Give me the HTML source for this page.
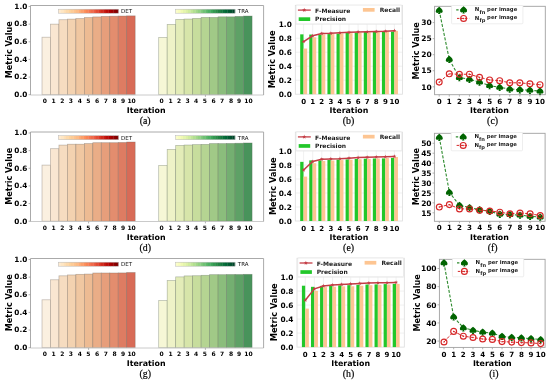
<!DOCTYPE html>
<html><head><meta charset="utf-8"><style>
html,body{margin:0;padding:0;background:#fff;}
svg{display:block;}
</style></head><body>
<svg width="550" height="383" viewBox="0 0 550 383">
<rect width="550" height="383" fill="#fff"/>
<rect x="42.00" y="37.19" width="8.47" height="57.51" fill="#fbf0e0" stroke="#6e6458" stroke-opacity="0.45" stroke-width="0.7"/>
<rect x="50.47" y="24.14" width="8.47" height="70.56" fill="#f9e6d1" stroke="#6e6458" stroke-opacity="0.45" stroke-width="0.7"/>
<rect x="58.94" y="19.73" width="8.47" height="74.97" fill="#f6dcc0" stroke="#6e6458" stroke-opacity="0.45" stroke-width="0.7"/>
<rect x="67.41" y="19.11" width="8.47" height="75.59" fill="#f3d2b0" stroke="#6e6458" stroke-opacity="0.45" stroke-width="0.7"/>
<rect x="75.88" y="18.58" width="8.47" height="76.12" fill="#f0c7a1" stroke="#6e6458" stroke-opacity="0.45" stroke-width="0.7"/>
<rect x="84.35" y="17.53" width="8.47" height="77.17" fill="#edbb93" stroke="#6e6458" stroke-opacity="0.45" stroke-width="0.7"/>
<rect x="92.82" y="16.91" width="8.47" height="77.79" fill="#eaad87" stroke="#6e6458" stroke-opacity="0.45" stroke-width="0.7"/>
<rect x="101.29" y="16.38" width="8.47" height="78.32" fill="#e79e7b" stroke="#6e6458" stroke-opacity="0.45" stroke-width="0.7"/>
<rect x="109.76" y="16.20" width="8.47" height="78.50" fill="#e38d6e" stroke="#6e6458" stroke-opacity="0.45" stroke-width="0.7"/>
<rect x="118.23" y="16.03" width="8.47" height="78.67" fill="#de7c62" stroke="#6e6458" stroke-opacity="0.45" stroke-width="0.7"/>
<rect x="126.70" y="15.85" width="8.47" height="78.85" fill="#d86b57" stroke="#6e6458" stroke-opacity="0.45" stroke-width="0.7"/>
<rect x="158.70" y="37.37" width="8.49" height="57.33" fill="#f6f7d6" stroke="#5e6a58" stroke-opacity="0.45" stroke-width="0.7"/>
<rect x="167.19" y="24.40" width="8.49" height="70.30" fill="#eef2c7" stroke="#5e6a58" stroke-opacity="0.45" stroke-width="0.7"/>
<rect x="175.68" y="19.38" width="8.49" height="75.32" fill="#e3ecb8" stroke="#5e6a58" stroke-opacity="0.45" stroke-width="0.7"/>
<rect x="184.17" y="19.02" width="8.49" height="75.68" fill="#d7e5aa" stroke="#5e6a58" stroke-opacity="0.45" stroke-width="0.7"/>
<rect x="192.66" y="18.41" width="8.49" height="76.29" fill="#c7dd9d" stroke="#5e6a58" stroke-opacity="0.45" stroke-width="0.7"/>
<rect x="201.15" y="17.44" width="8.49" height="77.26" fill="#b5d492" stroke="#5e6a58" stroke-opacity="0.45" stroke-width="0.7"/>
<rect x="209.64" y="17.44" width="8.49" height="77.26" fill="#a1c987" stroke="#5e6a58" stroke-opacity="0.45" stroke-width="0.7"/>
<rect x="218.13" y="16.82" width="8.49" height="77.88" fill="#8bbd7c" stroke="#5e6a58" stroke-opacity="0.45" stroke-width="0.7"/>
<rect x="226.62" y="16.82" width="8.49" height="77.88" fill="#74af71" stroke="#5e6a58" stroke-opacity="0.45" stroke-width="0.7"/>
<rect x="235.11" y="16.38" width="8.49" height="78.32" fill="#5ea166" stroke="#5e6a58" stroke-opacity="0.45" stroke-width="0.7"/>
<rect x="243.60" y="16.03" width="8.49" height="78.67" fill="#48935b" stroke="#5e6a58" stroke-opacity="0.45" stroke-width="0.7"/>
<line x1="30.5" y1="95.0" x2="263.6" y2="95.0" stroke="#c4c4c4" stroke-width="0.9"/>
<path d="M30.5,95.0 V5.5 H263.6 V95.0" fill="none" stroke="#a0a0a0" stroke-width="0.9"/>
<line x1="28.60" y1="94.70" x2="30.50" y2="94.70" stroke="#a0a0a0" stroke-width="0.8"/>
<text x="27.30" y="97.05" font-size="7.3" text-anchor="end" font-family="DejaVu Sans, sans-serif" font-weight="bold" fill="#000" >0.0</text>
<line x1="28.60" y1="77.06" x2="30.50" y2="77.06" stroke="#a0a0a0" stroke-width="0.8"/>
<text x="27.30" y="79.41" font-size="7.3" text-anchor="end" font-family="DejaVu Sans, sans-serif" font-weight="bold" fill="#000" >0.2</text>
<line x1="28.60" y1="59.42" x2="30.50" y2="59.42" stroke="#a0a0a0" stroke-width="0.8"/>
<text x="27.30" y="61.77" font-size="7.3" text-anchor="end" font-family="DejaVu Sans, sans-serif" font-weight="bold" fill="#000" >0.4</text>
<line x1="28.60" y1="41.78" x2="30.50" y2="41.78" stroke="#a0a0a0" stroke-width="0.8"/>
<text x="27.30" y="44.13" font-size="7.3" text-anchor="end" font-family="DejaVu Sans, sans-serif" font-weight="bold" fill="#000" >0.6</text>
<line x1="28.60" y1="24.14" x2="30.50" y2="24.14" stroke="#a0a0a0" stroke-width="0.8"/>
<text x="27.30" y="26.49" font-size="7.3" text-anchor="end" font-family="DejaVu Sans, sans-serif" font-weight="bold" fill="#000" >0.8</text>
<line x1="28.60" y1="6.50" x2="30.50" y2="6.50" stroke="#a0a0a0" stroke-width="0.8"/>
<text x="27.30" y="8.85" font-size="7.3" text-anchor="end" font-family="DejaVu Sans, sans-serif" font-weight="bold" fill="#000" >1.0</text>
<line x1="88.60" y1="95.00" x2="88.60" y2="96.90" stroke="#a0a0a0" stroke-width="0.8"/>
<line x1="205.40" y1="95.00" x2="205.40" y2="96.90" stroke="#a0a0a0" stroke-width="0.8"/>
<text x="44.80" y="103.10" font-size="6.0" text-anchor="middle" font-family="DejaVu Sans, sans-serif" font-weight="bold" fill="#000" >0</text>
<text x="161.60" y="103.10" font-size="6.0" text-anchor="middle" font-family="DejaVu Sans, sans-serif" font-weight="bold" fill="#000" >0</text>
<text x="53.60" y="103.10" font-size="6.0" text-anchor="middle" font-family="DejaVu Sans, sans-serif" font-weight="bold" fill="#000" >1</text>
<text x="170.60" y="103.10" font-size="6.0" text-anchor="middle" font-family="DejaVu Sans, sans-serif" font-weight="bold" fill="#000" >1</text>
<text x="62.30" y="103.10" font-size="6.0" text-anchor="middle" font-family="DejaVu Sans, sans-serif" font-weight="bold" fill="#000" >2</text>
<text x="179.00" y="103.10" font-size="6.0" text-anchor="middle" font-family="DejaVu Sans, sans-serif" font-weight="bold" fill="#000" >2</text>
<text x="70.80" y="103.10" font-size="6.0" text-anchor="middle" font-family="DejaVu Sans, sans-serif" font-weight="bold" fill="#000" >3</text>
<text x="187.70" y="103.10" font-size="6.0" text-anchor="middle" font-family="DejaVu Sans, sans-serif" font-weight="bold" fill="#000" >3</text>
<text x="79.80" y="103.10" font-size="6.0" text-anchor="middle" font-family="DejaVu Sans, sans-serif" font-weight="bold" fill="#000" >4</text>
<text x="196.20" y="103.10" font-size="6.0" text-anchor="middle" font-family="DejaVu Sans, sans-serif" font-weight="bold" fill="#000" >4</text>
<text x="88.30" y="103.10" font-size="6.0" text-anchor="middle" font-family="DejaVu Sans, sans-serif" font-weight="bold" fill="#000" >5</text>
<text x="204.90" y="103.10" font-size="6.0" text-anchor="middle" font-family="DejaVu Sans, sans-serif" font-weight="bold" fill="#000" >5</text>
<text x="97.00" y="103.10" font-size="6.0" text-anchor="middle" font-family="DejaVu Sans, sans-serif" font-weight="bold" fill="#000" >6</text>
<text x="213.60" y="103.10" font-size="6.0" text-anchor="middle" font-family="DejaVu Sans, sans-serif" font-weight="bold" fill="#000" >6</text>
<text x="105.80" y="103.10" font-size="6.0" text-anchor="middle" font-family="DejaVu Sans, sans-serif" font-weight="bold" fill="#000" >7</text>
<text x="222.20" y="103.10" font-size="6.0" text-anchor="middle" font-family="DejaVu Sans, sans-serif" font-weight="bold" fill="#000" >7</text>
<text x="114.50" y="103.10" font-size="6.0" text-anchor="middle" font-family="DejaVu Sans, sans-serif" font-weight="bold" fill="#000" >8</text>
<text x="231.10" y="103.10" font-size="6.0" text-anchor="middle" font-family="DejaVu Sans, sans-serif" font-weight="bold" fill="#000" >8</text>
<text x="123.10" y="103.10" font-size="6.0" text-anchor="middle" font-family="DejaVu Sans, sans-serif" font-weight="bold" fill="#000" >9</text>
<text x="239.20" y="103.10" font-size="6.0" text-anchor="middle" font-family="DejaVu Sans, sans-serif" font-weight="bold" fill="#000" >9</text>
<text x="131.60" y="103.10" font-size="6.0" text-anchor="middle" font-family="DejaVu Sans, sans-serif" font-weight="bold" fill="#000" >10</text>
<text x="248.40" y="103.10" font-size="6.0" text-anchor="middle" font-family="DejaVu Sans, sans-serif" font-weight="bold" fill="#000" >10</text>
<text x="146.20" y="113.30" font-size="7.9" text-anchor="middle" font-family="DejaVu Sans, sans-serif" font-weight="bold" fill="#000" >Iteration</text>
<text x="9.00" y="49.70" font-size="8.1" text-anchor="middle" font-family="DejaVu Sans, sans-serif" font-weight="bold" transform="rotate(-90 9.00 49.70)" dy="2.8">Metric Value</text>
<text x="145.20" y="124.40" font-size="9.9" text-anchor="middle" font-family="Liberation Serif, serif" stroke="#000" stroke-width="0.18" fill="#000" >(a)</text>
<rect x="58.30" y="9.20" width="2.80" height="4.0" fill="#feebd0"/>
<rect x="60.80" y="9.20" width="2.80" height="4.0" fill="#fee6c4"/>
<rect x="63.29" y="9.20" width="2.80" height="4.0" fill="#fee0b7"/>
<rect x="65.79" y="9.20" width="2.80" height="4.0" fill="#fdd9aa"/>
<rect x="68.28" y="9.20" width="2.80" height="4.0" fill="#fdd39d"/>
<rect x="70.78" y="9.20" width="2.80" height="4.0" fill="#fdcb95"/>
<rect x="73.28" y="9.20" width="2.80" height="4.0" fill="#fdc38d"/>
<rect x="75.77" y="9.20" width="2.80" height="4.0" fill="#fdbb85"/>
<rect x="78.27" y="9.20" width="2.80" height="4.0" fill="#fdad77"/>
<rect x="80.76" y="9.20" width="2.80" height="4.0" fill="#fc9f6a"/>
<rect x="83.26" y="9.20" width="2.80" height="4.0" fill="#fc915c"/>
<rect x="85.75" y="9.20" width="2.80" height="4.0" fill="#f98455"/>
<rect x="88.25" y="9.20" width="2.80" height="4.0" fill="#f57750"/>
<rect x="90.75" y="9.20" width="2.80" height="4.0" fill="#f16a4a"/>
<rect x="93.24" y="9.20" width="2.80" height="4.0" fill="#eb5c41"/>
<rect x="95.74" y="9.20" width="2.80" height="4.0" fill="#e34b34"/>
<rect x="98.23" y="9.20" width="2.80" height="4.0" fill="#dc3a27"/>
<rect x="100.73" y="9.20" width="2.80" height="4.0" fill="#d32a1b"/>
<rect x="103.22" y="9.20" width="2.80" height="4.0" fill="#c71b12"/>
<rect x="105.72" y="9.20" width="2.80" height="4.0" fill="#bc0c08"/>
<rect x="108.22" y="9.20" width="2.80" height="4.0" fill="#b00000"/>
<rect x="110.71" y="9.20" width="2.80" height="4.0" fill="#a00000"/>
<rect x="113.21" y="9.20" width="2.80" height="4.0" fill="#8f0000"/>
<rect x="115.70" y="9.20" width="2.80" height="4.0" fill="#7f0000"/>
<rect x="58.30" y="9.20" width="59.90" height="4.0" fill="none" stroke="#b8b8b8" stroke-width="0.5"/>
<text x="121.10" y="13.10" font-size="5.5" text-anchor="start" font-family="DejaVu Sans, sans-serif" fill="#111" >DET</text>
<rect x="175.60" y="9.20" width="2.77" height="4.0" fill="#fafdc9"/>
<rect x="178.07" y="9.20" width="2.77" height="4.0" fill="#f7fcbc"/>
<rect x="180.54" y="9.20" width="2.77" height="4.0" fill="#eff9b3"/>
<rect x="183.01" y="9.20" width="2.77" height="4.0" fill="#e5f5ac"/>
<rect x="185.48" y="9.20" width="2.77" height="4.0" fill="#dcf1a5"/>
<rect x="187.95" y="9.20" width="2.77" height="4.0" fill="#cfec9e"/>
<rect x="190.43" y="9.20" width="2.77" height="4.0" fill="#c1e698"/>
<rect x="192.90" y="9.20" width="2.77" height="4.0" fill="#b2df90"/>
<rect x="195.37" y="9.20" width="2.77" height="4.0" fill="#a2d88a"/>
<rect x="197.84" y="9.20" width="2.77" height="4.0" fill="#92d183"/>
<rect x="200.31" y="9.20" width="2.77" height="4.0" fill="#81ca7d"/>
<rect x="202.78" y="9.20" width="2.77" height="4.0" fill="#6fc174"/>
<rect x="205.25" y="9.20" width="2.77" height="4.0" fill="#5db96b"/>
<rect x="207.72" y="9.20" width="2.77" height="4.0" fill="#4cb063"/>
<rect x="210.19" y="9.20" width="2.77" height="4.0" fill="#3ea75a"/>
<rect x="212.66" y="9.20" width="2.77" height="4.0" fill="#339951"/>
<rect x="215.13" y="9.20" width="2.77" height="4.0" fill="#2a8d49"/>
<rect x="217.60" y="9.20" width="2.77" height="4.0" fill="#208242"/>
<rect x="220.07" y="9.20" width="2.77" height="4.0" fill="#15793e"/>
<rect x="222.55" y="9.20" width="2.77" height="4.0" fill="#096f3a"/>
<rect x="225.02" y="9.20" width="2.77" height="4.0" fill="#006636"/>
<rect x="227.49" y="9.20" width="2.77" height="4.0" fill="#005b32"/>
<rect x="229.96" y="9.20" width="2.77" height="4.0" fill="#00502d"/>
<rect x="232.43" y="9.20" width="2.77" height="4.0" fill="#004529"/>
<rect x="175.60" y="9.20" width="59.30" height="4.0" fill="none" stroke="#b8b8b8" stroke-width="0.5"/>
<text x="237.80" y="13.10" font-size="5.5" text-anchor="start" font-family="DejaVu Sans, sans-serif" fill="#111" >TRA</text>
<rect x="42.00" y="165.10" width="8.47" height="56.10" fill="#fbf0e0" stroke="#6e6458" stroke-opacity="0.45" stroke-width="0.7"/>
<rect x="50.47" y="148.70" width="8.47" height="72.50" fill="#f9e6d1" stroke="#6e6458" stroke-opacity="0.45" stroke-width="0.7"/>
<rect x="58.94" y="145.08" width="8.47" height="76.12" fill="#f6dcc0" stroke="#6e6458" stroke-opacity="0.45" stroke-width="0.7"/>
<rect x="67.41" y="144.20" width="8.47" height="77.00" fill="#f3d2b0" stroke="#6e6458" stroke-opacity="0.45" stroke-width="0.7"/>
<rect x="75.88" y="144.20" width="8.47" height="77.00" fill="#f0c7a1" stroke="#6e6458" stroke-opacity="0.45" stroke-width="0.7"/>
<rect x="84.35" y="143.58" width="8.47" height="77.62" fill="#edbb93" stroke="#6e6458" stroke-opacity="0.45" stroke-width="0.7"/>
<rect x="92.82" y="142.70" width="8.47" height="78.50" fill="#eaad87" stroke="#6e6458" stroke-opacity="0.45" stroke-width="0.7"/>
<rect x="101.29" y="142.70" width="8.47" height="78.50" fill="#e79e7b" stroke="#6e6458" stroke-opacity="0.45" stroke-width="0.7"/>
<rect x="109.76" y="142.70" width="8.47" height="78.50" fill="#e38d6e" stroke="#6e6458" stroke-opacity="0.45" stroke-width="0.7"/>
<rect x="118.23" y="142.44" width="8.47" height="78.76" fill="#de7c62" stroke="#6e6458" stroke-opacity="0.45" stroke-width="0.7"/>
<rect x="126.70" y="142.00" width="8.47" height="79.20" fill="#d86b57" stroke="#6e6458" stroke-opacity="0.45" stroke-width="0.7"/>
<rect x="158.70" y="165.37" width="8.49" height="55.83" fill="#f6f7d6" stroke="#5e6a58" stroke-opacity="0.45" stroke-width="0.7"/>
<rect x="167.19" y="149.41" width="8.49" height="71.79" fill="#eef2c7" stroke="#5e6a58" stroke-opacity="0.45" stroke-width="0.7"/>
<rect x="175.68" y="145.44" width="8.49" height="75.76" fill="#e3ecb8" stroke="#5e6a58" stroke-opacity="0.45" stroke-width="0.7"/>
<rect x="184.17" y="145.00" width="8.49" height="76.20" fill="#d7e5aa" stroke="#5e6a58" stroke-opacity="0.45" stroke-width="0.7"/>
<rect x="192.66" y="144.64" width="8.49" height="76.56" fill="#c7dd9d" stroke="#5e6a58" stroke-opacity="0.45" stroke-width="0.7"/>
<rect x="201.15" y="144.38" width="8.49" height="76.82" fill="#b5d492" stroke="#5e6a58" stroke-opacity="0.45" stroke-width="0.7"/>
<rect x="209.64" y="143.58" width="8.49" height="77.62" fill="#a1c987" stroke="#5e6a58" stroke-opacity="0.45" stroke-width="0.7"/>
<rect x="218.13" y="143.58" width="8.49" height="77.62" fill="#8bbd7c" stroke="#5e6a58" stroke-opacity="0.45" stroke-width="0.7"/>
<rect x="226.62" y="143.41" width="8.49" height="77.79" fill="#74af71" stroke="#5e6a58" stroke-opacity="0.45" stroke-width="0.7"/>
<rect x="235.11" y="143.23" width="8.49" height="77.97" fill="#5ea166" stroke="#5e6a58" stroke-opacity="0.45" stroke-width="0.7"/>
<rect x="243.60" y="142.97" width="8.49" height="78.23" fill="#48935b" stroke="#5e6a58" stroke-opacity="0.45" stroke-width="0.7"/>
<line x1="30.5" y1="221.5" x2="263.6" y2="221.5" stroke="#c4c4c4" stroke-width="0.9"/>
<path d="M30.5,221.5 V132.0 H263.6 V221.5" fill="none" stroke="#a0a0a0" stroke-width="0.9"/>
<line x1="28.60" y1="221.20" x2="30.50" y2="221.20" stroke="#a0a0a0" stroke-width="0.8"/>
<text x="27.30" y="223.55" font-size="7.3" text-anchor="end" font-family="DejaVu Sans, sans-serif" font-weight="bold" fill="#000" >0.0</text>
<line x1="28.60" y1="203.56" x2="30.50" y2="203.56" stroke="#a0a0a0" stroke-width="0.8"/>
<text x="27.30" y="205.91" font-size="7.3" text-anchor="end" font-family="DejaVu Sans, sans-serif" font-weight="bold" fill="#000" >0.2</text>
<line x1="28.60" y1="185.92" x2="30.50" y2="185.92" stroke="#a0a0a0" stroke-width="0.8"/>
<text x="27.30" y="188.27" font-size="7.3" text-anchor="end" font-family="DejaVu Sans, sans-serif" font-weight="bold" fill="#000" >0.4</text>
<line x1="28.60" y1="168.28" x2="30.50" y2="168.28" stroke="#a0a0a0" stroke-width="0.8"/>
<text x="27.30" y="170.63" font-size="7.3" text-anchor="end" font-family="DejaVu Sans, sans-serif" font-weight="bold" fill="#000" >0.6</text>
<line x1="28.60" y1="150.64" x2="30.50" y2="150.64" stroke="#a0a0a0" stroke-width="0.8"/>
<text x="27.30" y="152.99" font-size="7.3" text-anchor="end" font-family="DejaVu Sans, sans-serif" font-weight="bold" fill="#000" >0.8</text>
<line x1="28.60" y1="133.00" x2="30.50" y2="133.00" stroke="#a0a0a0" stroke-width="0.8"/>
<text x="27.30" y="135.35" font-size="7.3" text-anchor="end" font-family="DejaVu Sans, sans-serif" font-weight="bold" fill="#000" >1.0</text>
<line x1="88.60" y1="221.50" x2="88.60" y2="223.40" stroke="#a0a0a0" stroke-width="0.8"/>
<line x1="205.40" y1="221.50" x2="205.40" y2="223.40" stroke="#a0a0a0" stroke-width="0.8"/>
<text x="44.80" y="229.60" font-size="6.0" text-anchor="middle" font-family="DejaVu Sans, sans-serif" font-weight="bold" fill="#000" >0</text>
<text x="161.60" y="229.60" font-size="6.0" text-anchor="middle" font-family="DejaVu Sans, sans-serif" font-weight="bold" fill="#000" >0</text>
<text x="53.60" y="229.60" font-size="6.0" text-anchor="middle" font-family="DejaVu Sans, sans-serif" font-weight="bold" fill="#000" >1</text>
<text x="170.60" y="229.60" font-size="6.0" text-anchor="middle" font-family="DejaVu Sans, sans-serif" font-weight="bold" fill="#000" >1</text>
<text x="62.30" y="229.60" font-size="6.0" text-anchor="middle" font-family="DejaVu Sans, sans-serif" font-weight="bold" fill="#000" >2</text>
<text x="179.00" y="229.60" font-size="6.0" text-anchor="middle" font-family="DejaVu Sans, sans-serif" font-weight="bold" fill="#000" >2</text>
<text x="70.80" y="229.60" font-size="6.0" text-anchor="middle" font-family="DejaVu Sans, sans-serif" font-weight="bold" fill="#000" >3</text>
<text x="187.70" y="229.60" font-size="6.0" text-anchor="middle" font-family="DejaVu Sans, sans-serif" font-weight="bold" fill="#000" >3</text>
<text x="79.80" y="229.60" font-size="6.0" text-anchor="middle" font-family="DejaVu Sans, sans-serif" font-weight="bold" fill="#000" >4</text>
<text x="196.20" y="229.60" font-size="6.0" text-anchor="middle" font-family="DejaVu Sans, sans-serif" font-weight="bold" fill="#000" >4</text>
<text x="88.30" y="229.60" font-size="6.0" text-anchor="middle" font-family="DejaVu Sans, sans-serif" font-weight="bold" fill="#000" >5</text>
<text x="204.90" y="229.60" font-size="6.0" text-anchor="middle" font-family="DejaVu Sans, sans-serif" font-weight="bold" fill="#000" >5</text>
<text x="97.00" y="229.60" font-size="6.0" text-anchor="middle" font-family="DejaVu Sans, sans-serif" font-weight="bold" fill="#000" >6</text>
<text x="213.60" y="229.60" font-size="6.0" text-anchor="middle" font-family="DejaVu Sans, sans-serif" font-weight="bold" fill="#000" >6</text>
<text x="105.80" y="229.60" font-size="6.0" text-anchor="middle" font-family="DejaVu Sans, sans-serif" font-weight="bold" fill="#000" >7</text>
<text x="222.20" y="229.60" font-size="6.0" text-anchor="middle" font-family="DejaVu Sans, sans-serif" font-weight="bold" fill="#000" >7</text>
<text x="114.50" y="229.60" font-size="6.0" text-anchor="middle" font-family="DejaVu Sans, sans-serif" font-weight="bold" fill="#000" >8</text>
<text x="231.10" y="229.60" font-size="6.0" text-anchor="middle" font-family="DejaVu Sans, sans-serif" font-weight="bold" fill="#000" >8</text>
<text x="123.10" y="229.60" font-size="6.0" text-anchor="middle" font-family="DejaVu Sans, sans-serif" font-weight="bold" fill="#000" >9</text>
<text x="239.20" y="229.60" font-size="6.0" text-anchor="middle" font-family="DejaVu Sans, sans-serif" font-weight="bold" fill="#000" >9</text>
<text x="131.60" y="229.60" font-size="6.0" text-anchor="middle" font-family="DejaVu Sans, sans-serif" font-weight="bold" fill="#000" >10</text>
<text x="248.40" y="229.60" font-size="6.0" text-anchor="middle" font-family="DejaVu Sans, sans-serif" font-weight="bold" fill="#000" >10</text>
<text x="146.20" y="239.80" font-size="7.9" text-anchor="middle" font-family="DejaVu Sans, sans-serif" font-weight="bold" fill="#000" >Iteration</text>
<text x="9.00" y="176.20" font-size="8.1" text-anchor="middle" font-family="DejaVu Sans, sans-serif" font-weight="bold" transform="rotate(-90 9.00 176.20)" dy="2.8">Metric Value</text>
<text x="145.20" y="250.90" font-size="9.9" text-anchor="middle" font-family="Liberation Serif, serif" stroke="#000" stroke-width="0.18" fill="#000" >(d)</text>
<rect x="58.30" y="135.70" width="2.80" height="4.0" fill="#feebd0"/>
<rect x="60.80" y="135.70" width="2.80" height="4.0" fill="#fee6c4"/>
<rect x="63.29" y="135.70" width="2.80" height="4.0" fill="#fee0b7"/>
<rect x="65.79" y="135.70" width="2.80" height="4.0" fill="#fdd9aa"/>
<rect x="68.28" y="135.70" width="2.80" height="4.0" fill="#fdd39d"/>
<rect x="70.78" y="135.70" width="2.80" height="4.0" fill="#fdcb95"/>
<rect x="73.28" y="135.70" width="2.80" height="4.0" fill="#fdc38d"/>
<rect x="75.77" y="135.70" width="2.80" height="4.0" fill="#fdbb85"/>
<rect x="78.27" y="135.70" width="2.80" height="4.0" fill="#fdad77"/>
<rect x="80.76" y="135.70" width="2.80" height="4.0" fill="#fc9f6a"/>
<rect x="83.26" y="135.70" width="2.80" height="4.0" fill="#fc915c"/>
<rect x="85.75" y="135.70" width="2.80" height="4.0" fill="#f98455"/>
<rect x="88.25" y="135.70" width="2.80" height="4.0" fill="#f57750"/>
<rect x="90.75" y="135.70" width="2.80" height="4.0" fill="#f16a4a"/>
<rect x="93.24" y="135.70" width="2.80" height="4.0" fill="#eb5c41"/>
<rect x="95.74" y="135.70" width="2.80" height="4.0" fill="#e34b34"/>
<rect x="98.23" y="135.70" width="2.80" height="4.0" fill="#dc3a27"/>
<rect x="100.73" y="135.70" width="2.80" height="4.0" fill="#d32a1b"/>
<rect x="103.22" y="135.70" width="2.80" height="4.0" fill="#c71b12"/>
<rect x="105.72" y="135.70" width="2.80" height="4.0" fill="#bc0c08"/>
<rect x="108.22" y="135.70" width="2.80" height="4.0" fill="#b00000"/>
<rect x="110.71" y="135.70" width="2.80" height="4.0" fill="#a00000"/>
<rect x="113.21" y="135.70" width="2.80" height="4.0" fill="#8f0000"/>
<rect x="115.70" y="135.70" width="2.80" height="4.0" fill="#7f0000"/>
<rect x="58.30" y="135.70" width="59.90" height="4.0" fill="none" stroke="#b8b8b8" stroke-width="0.5"/>
<text x="121.10" y="139.60" font-size="5.5" text-anchor="start" font-family="DejaVu Sans, sans-serif" fill="#111" >DET</text>
<rect x="175.60" y="135.70" width="2.77" height="4.0" fill="#fafdc9"/>
<rect x="178.07" y="135.70" width="2.77" height="4.0" fill="#f7fcbc"/>
<rect x="180.54" y="135.70" width="2.77" height="4.0" fill="#eff9b3"/>
<rect x="183.01" y="135.70" width="2.77" height="4.0" fill="#e5f5ac"/>
<rect x="185.48" y="135.70" width="2.77" height="4.0" fill="#dcf1a5"/>
<rect x="187.95" y="135.70" width="2.77" height="4.0" fill="#cfec9e"/>
<rect x="190.43" y="135.70" width="2.77" height="4.0" fill="#c1e698"/>
<rect x="192.90" y="135.70" width="2.77" height="4.0" fill="#b2df90"/>
<rect x="195.37" y="135.70" width="2.77" height="4.0" fill="#a2d88a"/>
<rect x="197.84" y="135.70" width="2.77" height="4.0" fill="#92d183"/>
<rect x="200.31" y="135.70" width="2.77" height="4.0" fill="#81ca7d"/>
<rect x="202.78" y="135.70" width="2.77" height="4.0" fill="#6fc174"/>
<rect x="205.25" y="135.70" width="2.77" height="4.0" fill="#5db96b"/>
<rect x="207.72" y="135.70" width="2.77" height="4.0" fill="#4cb063"/>
<rect x="210.19" y="135.70" width="2.77" height="4.0" fill="#3ea75a"/>
<rect x="212.66" y="135.70" width="2.77" height="4.0" fill="#339951"/>
<rect x="215.13" y="135.70" width="2.77" height="4.0" fill="#2a8d49"/>
<rect x="217.60" y="135.70" width="2.77" height="4.0" fill="#208242"/>
<rect x="220.07" y="135.70" width="2.77" height="4.0" fill="#15793e"/>
<rect x="222.55" y="135.70" width="2.77" height="4.0" fill="#096f3a"/>
<rect x="225.02" y="135.70" width="2.77" height="4.0" fill="#006636"/>
<rect x="227.49" y="135.70" width="2.77" height="4.0" fill="#005b32"/>
<rect x="229.96" y="135.70" width="2.77" height="4.0" fill="#00502d"/>
<rect x="232.43" y="135.70" width="2.77" height="4.0" fill="#004529"/>
<rect x="175.60" y="135.70" width="59.30" height="4.0" fill="none" stroke="#b8b8b8" stroke-width="0.5"/>
<text x="237.80" y="139.60" font-size="5.5" text-anchor="start" font-family="DejaVu Sans, sans-serif" fill="#111" >TRA</text>
<rect x="42.00" y="299.81" width="8.47" height="47.89" fill="#fbf0e0" stroke="#6e6458" stroke-opacity="0.45" stroke-width="0.7"/>
<rect x="50.47" y="279.79" width="8.47" height="67.91" fill="#f9e6d1" stroke="#6e6458" stroke-opacity="0.45" stroke-width="0.7"/>
<rect x="58.94" y="275.82" width="8.47" height="71.88" fill="#f6dcc0" stroke="#6e6458" stroke-opacity="0.45" stroke-width="0.7"/>
<rect x="67.41" y="274.94" width="8.47" height="72.76" fill="#f3d2b0" stroke="#6e6458" stroke-opacity="0.45" stroke-width="0.7"/>
<rect x="75.88" y="274.32" width="8.47" height="73.38" fill="#f0c7a1" stroke="#6e6458" stroke-opacity="0.45" stroke-width="0.7"/>
<rect x="84.35" y="274.05" width="8.47" height="73.65" fill="#edbb93" stroke="#6e6458" stroke-opacity="0.45" stroke-width="0.7"/>
<rect x="92.82" y="272.99" width="8.47" height="74.71" fill="#eaad87" stroke="#6e6458" stroke-opacity="0.45" stroke-width="0.7"/>
<rect x="101.29" y="272.99" width="8.47" height="74.71" fill="#e79e7b" stroke="#6e6458" stroke-opacity="0.45" stroke-width="0.7"/>
<rect x="109.76" y="272.99" width="8.47" height="74.71" fill="#e38d6e" stroke="#6e6458" stroke-opacity="0.45" stroke-width="0.7"/>
<rect x="118.23" y="272.91" width="8.47" height="74.79" fill="#de7c62" stroke="#6e6458" stroke-opacity="0.45" stroke-width="0.7"/>
<rect x="126.70" y="272.47" width="8.47" height="75.23" fill="#d86b57" stroke="#6e6458" stroke-opacity="0.45" stroke-width="0.7"/>
<rect x="158.70" y="300.51" width="8.49" height="47.19" fill="#f6f7d6" stroke="#5e6a58" stroke-opacity="0.45" stroke-width="0.7"/>
<rect x="167.19" y="280.49" width="8.49" height="67.21" fill="#eef2c7" stroke="#5e6a58" stroke-opacity="0.45" stroke-width="0.7"/>
<rect x="175.68" y="276.88" width="8.49" height="70.82" fill="#e3ecb8" stroke="#5e6a58" stroke-opacity="0.45" stroke-width="0.7"/>
<rect x="184.17" y="275.91" width="8.49" height="71.79" fill="#d7e5aa" stroke="#5e6a58" stroke-opacity="0.45" stroke-width="0.7"/>
<rect x="192.66" y="275.73" width="8.49" height="71.97" fill="#c7dd9d" stroke="#5e6a58" stroke-opacity="0.45" stroke-width="0.7"/>
<rect x="201.15" y="275.29" width="8.49" height="72.41" fill="#b5d492" stroke="#5e6a58" stroke-opacity="0.45" stroke-width="0.7"/>
<rect x="209.64" y="274.67" width="8.49" height="73.03" fill="#a1c987" stroke="#5e6a58" stroke-opacity="0.45" stroke-width="0.7"/>
<rect x="218.13" y="274.67" width="8.49" height="73.03" fill="#8bbd7c" stroke="#5e6a58" stroke-opacity="0.45" stroke-width="0.7"/>
<rect x="226.62" y="274.49" width="8.49" height="73.21" fill="#74af71" stroke="#5e6a58" stroke-opacity="0.45" stroke-width="0.7"/>
<rect x="235.11" y="274.49" width="8.49" height="73.21" fill="#5ea166" stroke="#5e6a58" stroke-opacity="0.45" stroke-width="0.7"/>
<rect x="243.60" y="274.32" width="8.49" height="73.38" fill="#48935b" stroke="#5e6a58" stroke-opacity="0.45" stroke-width="0.7"/>
<line x1="30.5" y1="348.0" x2="263.6" y2="348.0" stroke="#c4c4c4" stroke-width="0.9"/>
<path d="M30.5,348.0 V258.5 H263.6 V348.0" fill="none" stroke="#a0a0a0" stroke-width="0.9"/>
<line x1="28.60" y1="347.70" x2="30.50" y2="347.70" stroke="#a0a0a0" stroke-width="0.8"/>
<text x="27.30" y="350.05" font-size="7.3" text-anchor="end" font-family="DejaVu Sans, sans-serif" font-weight="bold" fill="#000" >0.0</text>
<line x1="28.60" y1="330.06" x2="30.50" y2="330.06" stroke="#a0a0a0" stroke-width="0.8"/>
<text x="27.30" y="332.41" font-size="7.3" text-anchor="end" font-family="DejaVu Sans, sans-serif" font-weight="bold" fill="#000" >0.2</text>
<line x1="28.60" y1="312.42" x2="30.50" y2="312.42" stroke="#a0a0a0" stroke-width="0.8"/>
<text x="27.30" y="314.77" font-size="7.3" text-anchor="end" font-family="DejaVu Sans, sans-serif" font-weight="bold" fill="#000" >0.4</text>
<line x1="28.60" y1="294.78" x2="30.50" y2="294.78" stroke="#a0a0a0" stroke-width="0.8"/>
<text x="27.30" y="297.13" font-size="7.3" text-anchor="end" font-family="DejaVu Sans, sans-serif" font-weight="bold" fill="#000" >0.6</text>
<line x1="28.60" y1="277.14" x2="30.50" y2="277.14" stroke="#a0a0a0" stroke-width="0.8"/>
<text x="27.30" y="279.49" font-size="7.3" text-anchor="end" font-family="DejaVu Sans, sans-serif" font-weight="bold" fill="#000" >0.8</text>
<line x1="28.60" y1="259.50" x2="30.50" y2="259.50" stroke="#a0a0a0" stroke-width="0.8"/>
<text x="27.30" y="261.85" font-size="7.3" text-anchor="end" font-family="DejaVu Sans, sans-serif" font-weight="bold" fill="#000" >1.0</text>
<line x1="88.60" y1="348.00" x2="88.60" y2="349.90" stroke="#a0a0a0" stroke-width="0.8"/>
<line x1="205.40" y1="348.00" x2="205.40" y2="349.90" stroke="#a0a0a0" stroke-width="0.8"/>
<text x="44.80" y="356.10" font-size="6.0" text-anchor="middle" font-family="DejaVu Sans, sans-serif" font-weight="bold" fill="#000" >0</text>
<text x="161.60" y="356.10" font-size="6.0" text-anchor="middle" font-family="DejaVu Sans, sans-serif" font-weight="bold" fill="#000" >0</text>
<text x="53.60" y="356.10" font-size="6.0" text-anchor="middle" font-family="DejaVu Sans, sans-serif" font-weight="bold" fill="#000" >1</text>
<text x="170.60" y="356.10" font-size="6.0" text-anchor="middle" font-family="DejaVu Sans, sans-serif" font-weight="bold" fill="#000" >1</text>
<text x="62.30" y="356.10" font-size="6.0" text-anchor="middle" font-family="DejaVu Sans, sans-serif" font-weight="bold" fill="#000" >2</text>
<text x="179.00" y="356.10" font-size="6.0" text-anchor="middle" font-family="DejaVu Sans, sans-serif" font-weight="bold" fill="#000" >2</text>
<text x="70.80" y="356.10" font-size="6.0" text-anchor="middle" font-family="DejaVu Sans, sans-serif" font-weight="bold" fill="#000" >3</text>
<text x="187.70" y="356.10" font-size="6.0" text-anchor="middle" font-family="DejaVu Sans, sans-serif" font-weight="bold" fill="#000" >3</text>
<text x="79.80" y="356.10" font-size="6.0" text-anchor="middle" font-family="DejaVu Sans, sans-serif" font-weight="bold" fill="#000" >4</text>
<text x="196.20" y="356.10" font-size="6.0" text-anchor="middle" font-family="DejaVu Sans, sans-serif" font-weight="bold" fill="#000" >4</text>
<text x="88.30" y="356.10" font-size="6.0" text-anchor="middle" font-family="DejaVu Sans, sans-serif" font-weight="bold" fill="#000" >5</text>
<text x="204.90" y="356.10" font-size="6.0" text-anchor="middle" font-family="DejaVu Sans, sans-serif" font-weight="bold" fill="#000" >5</text>
<text x="97.00" y="356.10" font-size="6.0" text-anchor="middle" font-family="DejaVu Sans, sans-serif" font-weight="bold" fill="#000" >6</text>
<text x="213.60" y="356.10" font-size="6.0" text-anchor="middle" font-family="DejaVu Sans, sans-serif" font-weight="bold" fill="#000" >6</text>
<text x="105.80" y="356.10" font-size="6.0" text-anchor="middle" font-family="DejaVu Sans, sans-serif" font-weight="bold" fill="#000" >7</text>
<text x="222.20" y="356.10" font-size="6.0" text-anchor="middle" font-family="DejaVu Sans, sans-serif" font-weight="bold" fill="#000" >7</text>
<text x="114.50" y="356.10" font-size="6.0" text-anchor="middle" font-family="DejaVu Sans, sans-serif" font-weight="bold" fill="#000" >8</text>
<text x="231.10" y="356.10" font-size="6.0" text-anchor="middle" font-family="DejaVu Sans, sans-serif" font-weight="bold" fill="#000" >8</text>
<text x="123.10" y="356.10" font-size="6.0" text-anchor="middle" font-family="DejaVu Sans, sans-serif" font-weight="bold" fill="#000" >9</text>
<text x="239.20" y="356.10" font-size="6.0" text-anchor="middle" font-family="DejaVu Sans, sans-serif" font-weight="bold" fill="#000" >9</text>
<text x="131.60" y="356.10" font-size="6.0" text-anchor="middle" font-family="DejaVu Sans, sans-serif" font-weight="bold" fill="#000" >10</text>
<text x="248.40" y="356.10" font-size="6.0" text-anchor="middle" font-family="DejaVu Sans, sans-serif" font-weight="bold" fill="#000" >10</text>
<text x="146.20" y="366.30" font-size="7.9" text-anchor="middle" font-family="DejaVu Sans, sans-serif" font-weight="bold" fill="#000" >Iteration</text>
<text x="9.00" y="302.70" font-size="8.1" text-anchor="middle" font-family="DejaVu Sans, sans-serif" font-weight="bold" transform="rotate(-90 9.00 302.70)" dy="2.8">Metric Value</text>
<text x="145.20" y="377.40" font-size="9.9" text-anchor="middle" font-family="Liberation Serif, serif" stroke="#000" stroke-width="0.18" fill="#000" >(g)</text>
<rect x="58.30" y="262.20" width="2.80" height="4.0" fill="#feebd0"/>
<rect x="60.80" y="262.20" width="2.80" height="4.0" fill="#fee6c4"/>
<rect x="63.29" y="262.20" width="2.80" height="4.0" fill="#fee0b7"/>
<rect x="65.79" y="262.20" width="2.80" height="4.0" fill="#fdd9aa"/>
<rect x="68.28" y="262.20" width="2.80" height="4.0" fill="#fdd39d"/>
<rect x="70.78" y="262.20" width="2.80" height="4.0" fill="#fdcb95"/>
<rect x="73.28" y="262.20" width="2.80" height="4.0" fill="#fdc38d"/>
<rect x="75.77" y="262.20" width="2.80" height="4.0" fill="#fdbb85"/>
<rect x="78.27" y="262.20" width="2.80" height="4.0" fill="#fdad77"/>
<rect x="80.76" y="262.20" width="2.80" height="4.0" fill="#fc9f6a"/>
<rect x="83.26" y="262.20" width="2.80" height="4.0" fill="#fc915c"/>
<rect x="85.75" y="262.20" width="2.80" height="4.0" fill="#f98455"/>
<rect x="88.25" y="262.20" width="2.80" height="4.0" fill="#f57750"/>
<rect x="90.75" y="262.20" width="2.80" height="4.0" fill="#f16a4a"/>
<rect x="93.24" y="262.20" width="2.80" height="4.0" fill="#eb5c41"/>
<rect x="95.74" y="262.20" width="2.80" height="4.0" fill="#e34b34"/>
<rect x="98.23" y="262.20" width="2.80" height="4.0" fill="#dc3a27"/>
<rect x="100.73" y="262.20" width="2.80" height="4.0" fill="#d32a1b"/>
<rect x="103.22" y="262.20" width="2.80" height="4.0" fill="#c71b12"/>
<rect x="105.72" y="262.20" width="2.80" height="4.0" fill="#bc0c08"/>
<rect x="108.22" y="262.20" width="2.80" height="4.0" fill="#b00000"/>
<rect x="110.71" y="262.20" width="2.80" height="4.0" fill="#a00000"/>
<rect x="113.21" y="262.20" width="2.80" height="4.0" fill="#8f0000"/>
<rect x="115.70" y="262.20" width="2.80" height="4.0" fill="#7f0000"/>
<rect x="58.30" y="262.20" width="59.90" height="4.0" fill="none" stroke="#b8b8b8" stroke-width="0.5"/>
<text x="121.10" y="266.10" font-size="5.5" text-anchor="start" font-family="DejaVu Sans, sans-serif" fill="#111" >DET</text>
<rect x="175.60" y="262.20" width="2.77" height="4.0" fill="#fafdc9"/>
<rect x="178.07" y="262.20" width="2.77" height="4.0" fill="#f7fcbc"/>
<rect x="180.54" y="262.20" width="2.77" height="4.0" fill="#eff9b3"/>
<rect x="183.01" y="262.20" width="2.77" height="4.0" fill="#e5f5ac"/>
<rect x="185.48" y="262.20" width="2.77" height="4.0" fill="#dcf1a5"/>
<rect x="187.95" y="262.20" width="2.77" height="4.0" fill="#cfec9e"/>
<rect x="190.43" y="262.20" width="2.77" height="4.0" fill="#c1e698"/>
<rect x="192.90" y="262.20" width="2.77" height="4.0" fill="#b2df90"/>
<rect x="195.37" y="262.20" width="2.77" height="4.0" fill="#a2d88a"/>
<rect x="197.84" y="262.20" width="2.77" height="4.0" fill="#92d183"/>
<rect x="200.31" y="262.20" width="2.77" height="4.0" fill="#81ca7d"/>
<rect x="202.78" y="262.20" width="2.77" height="4.0" fill="#6fc174"/>
<rect x="205.25" y="262.20" width="2.77" height="4.0" fill="#5db96b"/>
<rect x="207.72" y="262.20" width="2.77" height="4.0" fill="#4cb063"/>
<rect x="210.19" y="262.20" width="2.77" height="4.0" fill="#3ea75a"/>
<rect x="212.66" y="262.20" width="2.77" height="4.0" fill="#339951"/>
<rect x="215.13" y="262.20" width="2.77" height="4.0" fill="#2a8d49"/>
<rect x="217.60" y="262.20" width="2.77" height="4.0" fill="#208242"/>
<rect x="220.07" y="262.20" width="2.77" height="4.0" fill="#15793e"/>
<rect x="222.55" y="262.20" width="2.77" height="4.0" fill="#096f3a"/>
<rect x="225.02" y="262.20" width="2.77" height="4.0" fill="#006636"/>
<rect x="227.49" y="262.20" width="2.77" height="4.0" fill="#005b32"/>
<rect x="229.96" y="262.20" width="2.77" height="4.0" fill="#00502d"/>
<rect x="232.43" y="262.20" width="2.77" height="4.0" fill="#004529"/>
<rect x="175.60" y="262.20" width="59.30" height="4.0" fill="none" stroke="#b8b8b8" stroke-width="0.5"/>
<text x="237.80" y="266.10" font-size="5.5" text-anchor="start" font-family="DejaVu Sans, sans-serif" fill="#111" >TRA</text>
<line x1="295.3" y1="80.20" x2="402.6" y2="80.20" stroke="#ebebeb" stroke-width="0.7"/>
<line x1="295.3" y1="66.20" x2="402.6" y2="66.20" stroke="#ebebeb" stroke-width="0.7"/>
<line x1="295.3" y1="52.20" x2="402.6" y2="52.20" stroke="#ebebeb" stroke-width="0.7"/>
<line x1="295.3" y1="38.20" x2="402.6" y2="38.20" stroke="#ebebeb" stroke-width="0.7"/>
<line x1="295.3" y1="24.20" x2="402.6" y2="24.20" stroke="#ebebeb" stroke-width="0.7"/>
<line x1="303.60" y1="5.3" x2="303.60" y2="94.2" stroke="#ebebeb" stroke-width="0.7"/>
<line x1="312.68" y1="5.3" x2="312.68" y2="94.2" stroke="#ebebeb" stroke-width="0.7"/>
<line x1="321.76" y1="5.3" x2="321.76" y2="94.2" stroke="#ebebeb" stroke-width="0.7"/>
<line x1="330.84" y1="5.3" x2="330.84" y2="94.2" stroke="#ebebeb" stroke-width="0.7"/>
<line x1="339.92" y1="5.3" x2="339.92" y2="94.2" stroke="#ebebeb" stroke-width="0.7"/>
<line x1="349.00" y1="5.3" x2="349.00" y2="94.2" stroke="#ebebeb" stroke-width="0.7"/>
<line x1="358.08" y1="5.3" x2="358.08" y2="94.2" stroke="#ebebeb" stroke-width="0.7"/>
<line x1="367.16" y1="5.3" x2="367.16" y2="94.2" stroke="#ebebeb" stroke-width="0.7"/>
<line x1="376.24" y1="5.3" x2="376.24" y2="94.2" stroke="#ebebeb" stroke-width="0.7"/>
<line x1="385.32" y1="5.3" x2="385.32" y2="94.2" stroke="#ebebeb" stroke-width="0.7"/>
<line x1="394.40" y1="5.3" x2="394.40" y2="94.2" stroke="#ebebeb" stroke-width="0.7"/>
<rect x="295.3" y="5.3" width="107.30" height="88.90" fill="none" stroke="#dcdcdc" stroke-width="0.8"/>
<rect x="300.20" y="34.35" width="3.3" height="59.85" fill="#22c72a"/>
<rect x="303.50" y="48.56" width="3.65" height="45.64" fill="#fdc592"/>
<rect x="309.28" y="34.56" width="3.3" height="59.64" fill="#22c72a"/>
<rect x="312.58" y="37.29" width="3.65" height="56.91" fill="#fdc592"/>
<rect x="318.36" y="34.70" width="3.3" height="59.50" fill="#22c72a"/>
<rect x="321.66" y="34.35" width="3.65" height="59.85" fill="#fdc592"/>
<rect x="327.44" y="34.07" width="3.3" height="60.13" fill="#22c72a"/>
<rect x="330.74" y="34.00" width="3.65" height="60.20" fill="#fdc592"/>
<rect x="336.52" y="33.58" width="3.3" height="60.62" fill="#22c72a"/>
<rect x="339.82" y="33.58" width="3.65" height="60.62" fill="#fdc592"/>
<rect x="345.60" y="32.88" width="3.3" height="61.32" fill="#22c72a"/>
<rect x="348.90" y="33.16" width="3.65" height="61.04" fill="#fdc592"/>
<rect x="354.68" y="32.46" width="3.3" height="61.74" fill="#22c72a"/>
<rect x="357.98" y="32.74" width="3.65" height="61.46" fill="#fdc592"/>
<rect x="363.76" y="31.97" width="3.3" height="62.23" fill="#22c72a"/>
<rect x="367.06" y="32.32" width="3.65" height="61.88" fill="#fdc592"/>
<rect x="372.84" y="31.83" width="3.3" height="62.37" fill="#22c72a"/>
<rect x="376.14" y="32.04" width="3.65" height="62.16" fill="#fdc592"/>
<rect x="381.92" y="31.76" width="3.3" height="62.44" fill="#22c72a"/>
<rect x="385.22" y="31.69" width="3.65" height="62.51" fill="#fdc592"/>
<rect x="391.00" y="31.62" width="3.3" height="62.58" fill="#22c72a"/>
<rect x="394.30" y="30.85" width="3.65" height="63.35" fill="#fdc592"/>
<polyline points="303.60,41.63 312.68,35.75 321.76,33.51 330.84,33.30 339.92,32.81 349.00,32.32 358.08,31.97 367.16,31.83 376.24,31.55 385.32,31.27 394.40,30.64" fill="none" stroke="#c43c45" stroke-width="1.5"/>
<polygon points="303.60,39.53 304.10,40.94 305.60,40.98 304.41,41.89 304.83,43.33 303.60,42.48 302.37,43.33 302.79,41.89 301.60,40.98 303.10,40.94" fill="#c43c45"/>
<polygon points="312.68,33.65 313.18,35.06 314.68,35.10 313.49,36.01 313.91,37.45 312.68,36.60 311.45,37.45 311.87,36.01 310.68,35.10 312.18,35.06" fill="#c43c45"/>
<polygon points="321.76,31.41 322.26,32.82 323.76,32.86 322.57,33.77 322.99,35.21 321.76,34.36 320.53,35.21 320.95,33.77 319.76,32.86 321.26,32.82" fill="#c43c45"/>
<polygon points="330.84,31.20 331.34,32.61 332.84,32.65 331.65,33.56 332.07,35.00 330.84,34.15 329.61,35.00 330.03,33.56 328.84,32.65 330.34,32.61" fill="#c43c45"/>
<polygon points="339.92,30.71 340.42,32.12 341.92,32.16 340.73,33.07 341.15,34.51 339.92,33.66 338.69,34.51 339.11,33.07 337.92,32.16 339.42,32.12" fill="#c43c45"/>
<polygon points="349.00,30.22 349.50,31.63 351.00,31.67 349.81,32.58 350.23,34.02 349.00,33.17 347.77,34.02 348.19,32.58 347.00,31.67 348.50,31.63" fill="#c43c45"/>
<polygon points="358.08,29.87 358.58,31.28 360.08,31.32 358.89,32.23 359.31,33.67 358.08,32.82 356.85,33.67 357.27,32.23 356.08,31.32 357.58,31.28" fill="#c43c45"/>
<polygon points="367.16,29.73 367.66,31.14 369.16,31.18 367.97,32.09 368.39,33.53 367.16,32.68 365.93,33.53 366.35,32.09 365.16,31.18 366.66,31.14" fill="#c43c45"/>
<polygon points="376.24,29.45 376.74,30.86 378.24,30.90 377.05,31.81 377.47,33.25 376.24,32.40 375.01,33.25 375.43,31.81 374.24,30.90 375.74,30.86" fill="#c43c45"/>
<polygon points="385.32,29.17 385.82,30.58 387.32,30.62 386.13,31.53 386.55,32.97 385.32,32.12 384.09,32.97 384.51,31.53 383.32,30.62 384.82,30.58" fill="#c43c45"/>
<polygon points="394.40,28.54 394.90,29.95 396.40,29.99 395.21,30.90 395.63,32.34 394.40,31.49 393.17,32.34 393.59,30.90 392.40,29.99 393.90,29.95" fill="#c43c45"/>
<text x="291.80" y="96.80" font-size="7.4" text-anchor="end" font-family="DejaVu Sans, sans-serif" font-weight="bold" fill="#000" >0.0</text>
<text x="291.80" y="82.80" font-size="7.4" text-anchor="end" font-family="DejaVu Sans, sans-serif" font-weight="bold" fill="#000" >0.2</text>
<text x="291.80" y="68.80" font-size="7.4" text-anchor="end" font-family="DejaVu Sans, sans-serif" font-weight="bold" fill="#000" >0.4</text>
<text x="291.80" y="54.80" font-size="7.4" text-anchor="end" font-family="DejaVu Sans, sans-serif" font-weight="bold" fill="#000" >0.6</text>
<text x="291.80" y="40.80" font-size="7.4" text-anchor="end" font-family="DejaVu Sans, sans-serif" font-weight="bold" fill="#000" >0.8</text>
<text x="291.80" y="26.80" font-size="7.4" text-anchor="end" font-family="DejaVu Sans, sans-serif" font-weight="bold" fill="#000" >1.0</text>
<text x="303.60" y="103.80" font-size="7.0" text-anchor="middle" font-family="DejaVu Sans, sans-serif" font-weight="bold" fill="#000" >0</text>
<text x="312.68" y="103.80" font-size="7.0" text-anchor="middle" font-family="DejaVu Sans, sans-serif" font-weight="bold" fill="#000" >1</text>
<text x="321.76" y="103.80" font-size="7.0" text-anchor="middle" font-family="DejaVu Sans, sans-serif" font-weight="bold" fill="#000" >2</text>
<text x="330.84" y="103.80" font-size="7.0" text-anchor="middle" font-family="DejaVu Sans, sans-serif" font-weight="bold" fill="#000" >3</text>
<text x="339.92" y="103.80" font-size="7.0" text-anchor="middle" font-family="DejaVu Sans, sans-serif" font-weight="bold" fill="#000" >4</text>
<text x="349.00" y="103.80" font-size="7.0" text-anchor="middle" font-family="DejaVu Sans, sans-serif" font-weight="bold" fill="#000" >5</text>
<text x="358.08" y="103.80" font-size="7.0" text-anchor="middle" font-family="DejaVu Sans, sans-serif" font-weight="bold" fill="#000" >6</text>
<text x="367.16" y="103.80" font-size="7.0" text-anchor="middle" font-family="DejaVu Sans, sans-serif" font-weight="bold" fill="#000" >7</text>
<text x="376.24" y="103.80" font-size="7.0" text-anchor="middle" font-family="DejaVu Sans, sans-serif" font-weight="bold" fill="#000" >8</text>
<text x="385.32" y="103.80" font-size="7.0" text-anchor="middle" font-family="DejaVu Sans, sans-serif" font-weight="bold" fill="#000" >9</text>
<text x="394.40" y="103.80" font-size="7.0" text-anchor="middle" font-family="DejaVu Sans, sans-serif" font-weight="bold" fill="#000" >10</text>
<text x="349.00" y="113.30" font-size="7.9" text-anchor="middle" font-family="DejaVu Sans, sans-serif" font-weight="bold" fill="#000" >Iteration</text>
<text x="272.70" y="59.40" font-size="8.2" text-anchor="middle" font-family="DejaVu Sans, sans-serif" font-weight="bold" transform="rotate(-90 272.70 59.40)" dy="2.8">Metric Value</text>
<text x="348.60" y="124.40" font-size="9.9" text-anchor="middle" font-family="Liberation Serif, serif" stroke="#000" stroke-width="0.18" fill="#000" >(b)</text>
<rect x="296.0" y="5.1" width="105.80" height="18.80" fill="#fff" stroke="#e2e2e2" stroke-width="0.7" rx="0.8"/>
<line x1="297.9" y1="10.1" x2="310.8" y2="10.1" stroke="#c43c45" stroke-width="1.3"/>
<polygon points="304.20,7.80 304.73,9.37 306.39,9.39 305.06,10.38 305.55,11.96 304.20,11.00 302.85,11.96 303.34,10.38 302.01,9.39 303.67,9.37" fill="#c43c45"/>
<rect x="298.7" y="17.3" width="11.5" height="3.7" fill="#22c72a"/>
<rect x="362.9" y="8.0" width="11.7" height="3.7" fill="#fdc592"/>
<text x="315.00" y="12.70" font-size="6.0" text-anchor="start" font-family="DejaVu Sans, sans-serif" font-weight="bold" fill="#1a1a1a" >F-Measure</text>
<text x="315.00" y="21.30" font-size="6.0" text-anchor="start" font-family="DejaVu Sans, sans-serif" font-weight="bold" fill="#1a1a1a" >Precision</text>
<text x="379.70" y="12.40" font-size="6.0" text-anchor="start" font-family="DejaVu Sans, sans-serif" font-weight="bold" fill="#1a1a1a" >Recall</text>
<line x1="295.3" y1="207.00" x2="402.6" y2="207.00" stroke="#ebebeb" stroke-width="0.7"/>
<line x1="295.3" y1="193.00" x2="402.6" y2="193.00" stroke="#ebebeb" stroke-width="0.7"/>
<line x1="295.3" y1="179.00" x2="402.6" y2="179.00" stroke="#ebebeb" stroke-width="0.7"/>
<line x1="295.3" y1="165.00" x2="402.6" y2="165.00" stroke="#ebebeb" stroke-width="0.7"/>
<line x1="295.3" y1="151.00" x2="402.6" y2="151.00" stroke="#ebebeb" stroke-width="0.7"/>
<line x1="303.60" y1="132.1" x2="303.60" y2="221.0" stroke="#ebebeb" stroke-width="0.7"/>
<line x1="312.68" y1="132.1" x2="312.68" y2="221.0" stroke="#ebebeb" stroke-width="0.7"/>
<line x1="321.76" y1="132.1" x2="321.76" y2="221.0" stroke="#ebebeb" stroke-width="0.7"/>
<line x1="330.84" y1="132.1" x2="330.84" y2="221.0" stroke="#ebebeb" stroke-width="0.7"/>
<line x1="339.92" y1="132.1" x2="339.92" y2="221.0" stroke="#ebebeb" stroke-width="0.7"/>
<line x1="349.00" y1="132.1" x2="349.00" y2="221.0" stroke="#ebebeb" stroke-width="0.7"/>
<line x1="358.08" y1="132.1" x2="358.08" y2="221.0" stroke="#ebebeb" stroke-width="0.7"/>
<line x1="367.16" y1="132.1" x2="367.16" y2="221.0" stroke="#ebebeb" stroke-width="0.7"/>
<line x1="376.24" y1="132.1" x2="376.24" y2="221.0" stroke="#ebebeb" stroke-width="0.7"/>
<line x1="385.32" y1="132.1" x2="385.32" y2="221.0" stroke="#ebebeb" stroke-width="0.7"/>
<line x1="394.40" y1="132.1" x2="394.40" y2="221.0" stroke="#ebebeb" stroke-width="0.7"/>
<rect x="295.3" y="132.1" width="107.30" height="88.90" fill="none" stroke="#dcdcdc" stroke-width="0.8"/>
<rect x="300.20" y="161.85" width="3.3" height="59.15" fill="#22c72a"/>
<rect x="303.50" y="176.62" width="3.65" height="44.38" fill="#fdc592"/>
<rect x="309.28" y="160.38" width="3.3" height="60.62" fill="#22c72a"/>
<rect x="312.58" y="163.18" width="3.65" height="57.82" fill="#fdc592"/>
<rect x="318.36" y="160.52" width="3.3" height="60.48" fill="#22c72a"/>
<rect x="321.66" y="161.01" width="3.65" height="59.99" fill="#fdc592"/>
<rect x="327.44" y="160.03" width="3.3" height="60.97" fill="#22c72a"/>
<rect x="330.74" y="160.52" width="3.65" height="60.48" fill="#fdc592"/>
<rect x="336.52" y="159.61" width="3.3" height="61.39" fill="#22c72a"/>
<rect x="339.82" y="160.10" width="3.65" height="60.90" fill="#fdc592"/>
<rect x="345.60" y="159.40" width="3.3" height="61.60" fill="#22c72a"/>
<rect x="348.90" y="159.68" width="3.65" height="61.32" fill="#fdc592"/>
<rect x="354.68" y="158.98" width="3.3" height="62.02" fill="#22c72a"/>
<rect x="357.98" y="159.26" width="3.65" height="61.74" fill="#fdc592"/>
<rect x="363.76" y="158.70" width="3.3" height="62.30" fill="#22c72a"/>
<rect x="367.06" y="158.84" width="3.65" height="62.16" fill="#fdc592"/>
<rect x="372.84" y="158.49" width="3.3" height="62.51" fill="#22c72a"/>
<rect x="376.14" y="158.42" width="3.65" height="62.58" fill="#fdc592"/>
<rect x="381.92" y="158.42" width="3.3" height="62.58" fill="#22c72a"/>
<rect x="385.22" y="158.00" width="3.65" height="63.00" fill="#fdc592"/>
<rect x="391.00" y="157.93" width="3.3" height="63.07" fill="#22c72a"/>
<rect x="394.30" y="157.02" width="3.65" height="63.98" fill="#fdc592"/>
<polyline points="303.60,170.04 312.68,161.50 321.76,159.26 330.84,158.91 339.92,158.63 349.00,158.14 358.08,157.58 367.16,157.30 376.24,157.02 385.32,156.74 394.40,156.46" fill="none" stroke="#c43c45" stroke-width="1.5"/>
<polygon points="303.60,167.94 304.10,169.35 305.60,169.39 304.41,170.30 304.83,171.74 303.60,170.89 302.37,171.74 302.79,170.30 301.60,169.39 303.10,169.35" fill="#c43c45"/>
<polygon points="312.68,159.40 313.18,160.81 314.68,160.85 313.49,161.76 313.91,163.20 312.68,162.35 311.45,163.20 311.87,161.76 310.68,160.85 312.18,160.81" fill="#c43c45"/>
<polygon points="321.76,157.16 322.26,158.57 323.76,158.61 322.57,159.52 322.99,160.96 321.76,160.11 320.53,160.96 320.95,159.52 319.76,158.61 321.26,158.57" fill="#c43c45"/>
<polygon points="330.84,156.81 331.34,158.22 332.84,158.26 331.65,159.17 332.07,160.61 330.84,159.76 329.61,160.61 330.03,159.17 328.84,158.26 330.34,158.22" fill="#c43c45"/>
<polygon points="339.92,156.53 340.42,157.94 341.92,157.98 340.73,158.89 341.15,160.33 339.92,159.48 338.69,160.33 339.11,158.89 337.92,157.98 339.42,157.94" fill="#c43c45"/>
<polygon points="349.00,156.04 349.50,157.45 351.00,157.49 349.81,158.40 350.23,159.84 349.00,158.99 347.77,159.84 348.19,158.40 347.00,157.49 348.50,157.45" fill="#c43c45"/>
<polygon points="358.08,155.48 358.58,156.89 360.08,156.93 358.89,157.84 359.31,159.28 358.08,158.43 356.85,159.28 357.27,157.84 356.08,156.93 357.58,156.89" fill="#c43c45"/>
<polygon points="367.16,155.20 367.66,156.61 369.16,156.65 367.97,157.56 368.39,159.00 367.16,158.15 365.93,159.00 366.35,157.56 365.16,156.65 366.66,156.61" fill="#c43c45"/>
<polygon points="376.24,154.92 376.74,156.33 378.24,156.37 377.05,157.28 377.47,158.72 376.24,157.87 375.01,158.72 375.43,157.28 374.24,156.37 375.74,156.33" fill="#c43c45"/>
<polygon points="385.32,154.64 385.82,156.05 387.32,156.09 386.13,157.00 386.55,158.44 385.32,157.59 384.09,158.44 384.51,157.00 383.32,156.09 384.82,156.05" fill="#c43c45"/>
<polygon points="394.40,154.36 394.90,155.77 396.40,155.81 395.21,156.72 395.63,158.16 394.40,157.31 393.17,158.16 393.59,156.72 392.40,155.81 393.90,155.77" fill="#c43c45"/>
<text x="291.80" y="223.60" font-size="7.4" text-anchor="end" font-family="DejaVu Sans, sans-serif" font-weight="bold" fill="#000" >0.0</text>
<text x="291.80" y="209.60" font-size="7.4" text-anchor="end" font-family="DejaVu Sans, sans-serif" font-weight="bold" fill="#000" >0.2</text>
<text x="291.80" y="195.60" font-size="7.4" text-anchor="end" font-family="DejaVu Sans, sans-serif" font-weight="bold" fill="#000" >0.4</text>
<text x="291.80" y="181.60" font-size="7.4" text-anchor="end" font-family="DejaVu Sans, sans-serif" font-weight="bold" fill="#000" >0.6</text>
<text x="291.80" y="167.60" font-size="7.4" text-anchor="end" font-family="DejaVu Sans, sans-serif" font-weight="bold" fill="#000" >0.8</text>
<text x="291.80" y="153.60" font-size="7.4" text-anchor="end" font-family="DejaVu Sans, sans-serif" font-weight="bold" fill="#000" >1.0</text>
<text x="303.60" y="230.60" font-size="7.0" text-anchor="middle" font-family="DejaVu Sans, sans-serif" font-weight="bold" fill="#000" >0</text>
<text x="312.68" y="230.60" font-size="7.0" text-anchor="middle" font-family="DejaVu Sans, sans-serif" font-weight="bold" fill="#000" >1</text>
<text x="321.76" y="230.60" font-size="7.0" text-anchor="middle" font-family="DejaVu Sans, sans-serif" font-weight="bold" fill="#000" >2</text>
<text x="330.84" y="230.60" font-size="7.0" text-anchor="middle" font-family="DejaVu Sans, sans-serif" font-weight="bold" fill="#000" >3</text>
<text x="339.92" y="230.60" font-size="7.0" text-anchor="middle" font-family="DejaVu Sans, sans-serif" font-weight="bold" fill="#000" >4</text>
<text x="349.00" y="230.60" font-size="7.0" text-anchor="middle" font-family="DejaVu Sans, sans-serif" font-weight="bold" fill="#000" >5</text>
<text x="358.08" y="230.60" font-size="7.0" text-anchor="middle" font-family="DejaVu Sans, sans-serif" font-weight="bold" fill="#000" >6</text>
<text x="367.16" y="230.60" font-size="7.0" text-anchor="middle" font-family="DejaVu Sans, sans-serif" font-weight="bold" fill="#000" >7</text>
<text x="376.24" y="230.60" font-size="7.0" text-anchor="middle" font-family="DejaVu Sans, sans-serif" font-weight="bold" fill="#000" >8</text>
<text x="385.32" y="230.60" font-size="7.0" text-anchor="middle" font-family="DejaVu Sans, sans-serif" font-weight="bold" fill="#000" >9</text>
<text x="394.40" y="230.60" font-size="7.0" text-anchor="middle" font-family="DejaVu Sans, sans-serif" font-weight="bold" fill="#000" >10</text>
<text x="349.00" y="240.10" font-size="7.9" text-anchor="middle" font-family="DejaVu Sans, sans-serif" font-weight="bold" fill="#000" >Iteration</text>
<text x="272.70" y="186.20" font-size="8.2" text-anchor="middle" font-family="DejaVu Sans, sans-serif" font-weight="bold" transform="rotate(-90 272.70 186.20)" dy="2.8">Metric Value</text>
<text x="348.60" y="251.20" font-size="9.9" text-anchor="middle" font-family="Liberation Serif, serif" stroke="#000" stroke-width="0.18" fill="#000" >(e)</text>
<rect x="296.0" y="131.9" width="105.80" height="18.80" fill="#fff" stroke="#e2e2e2" stroke-width="0.7" rx="0.8"/>
<line x1="297.9" y1="136.9" x2="310.8" y2="136.9" stroke="#c43c45" stroke-width="1.3"/>
<polygon points="304.20,134.60 304.73,136.17 306.39,136.19 305.06,137.18 305.55,138.76 304.20,137.80 302.85,138.76 303.34,137.18 302.01,136.19 303.67,136.17" fill="#c43c45"/>
<rect x="298.7" y="144.1" width="11.5" height="3.7" fill="#22c72a"/>
<rect x="362.9" y="134.8" width="11.7" height="3.7" fill="#fdc592"/>
<text x="315.00" y="139.50" font-size="6.0" text-anchor="start" font-family="DejaVu Sans, sans-serif" font-weight="bold" fill="#1a1a1a" >F-Measure</text>
<text x="315.00" y="148.10" font-size="6.0" text-anchor="start" font-family="DejaVu Sans, sans-serif" font-weight="bold" fill="#1a1a1a" >Precision</text>
<text x="379.70" y="139.20" font-size="6.0" text-anchor="start" font-family="DejaVu Sans, sans-serif" font-weight="bold" fill="#1a1a1a" >Recall</text>
<line x1="297.0" y1="333.10" x2="404.3" y2="333.10" stroke="#ebebeb" stroke-width="0.7"/>
<line x1="297.0" y1="319.10" x2="404.3" y2="319.10" stroke="#ebebeb" stroke-width="0.7"/>
<line x1="297.0" y1="305.10" x2="404.3" y2="305.10" stroke="#ebebeb" stroke-width="0.7"/>
<line x1="297.0" y1="291.10" x2="404.3" y2="291.10" stroke="#ebebeb" stroke-width="0.7"/>
<line x1="297.0" y1="277.10" x2="404.3" y2="277.10" stroke="#ebebeb" stroke-width="0.7"/>
<line x1="305.30" y1="258.2" x2="305.30" y2="347.1" stroke="#ebebeb" stroke-width="0.7"/>
<line x1="314.38" y1="258.2" x2="314.38" y2="347.1" stroke="#ebebeb" stroke-width="0.7"/>
<line x1="323.46" y1="258.2" x2="323.46" y2="347.1" stroke="#ebebeb" stroke-width="0.7"/>
<line x1="332.54" y1="258.2" x2="332.54" y2="347.1" stroke="#ebebeb" stroke-width="0.7"/>
<line x1="341.62" y1="258.2" x2="341.62" y2="347.1" stroke="#ebebeb" stroke-width="0.7"/>
<line x1="350.70" y1="258.2" x2="350.70" y2="347.1" stroke="#ebebeb" stroke-width="0.7"/>
<line x1="359.78" y1="258.2" x2="359.78" y2="347.1" stroke="#ebebeb" stroke-width="0.7"/>
<line x1="368.86" y1="258.2" x2="368.86" y2="347.1" stroke="#ebebeb" stroke-width="0.7"/>
<line x1="377.94" y1="258.2" x2="377.94" y2="347.1" stroke="#ebebeb" stroke-width="0.7"/>
<line x1="387.02" y1="258.2" x2="387.02" y2="347.1" stroke="#ebebeb" stroke-width="0.7"/>
<line x1="396.10" y1="258.2" x2="396.10" y2="347.1" stroke="#ebebeb" stroke-width="0.7"/>
<rect x="297.0" y="258.2" width="107.30" height="88.90" fill="none" stroke="#dcdcdc" stroke-width="0.8"/>
<rect x="301.90" y="285.71" width="3.3" height="61.39" fill="#22c72a"/>
<rect x="305.20" y="308.60" width="3.65" height="38.50" fill="#fdc592"/>
<rect x="310.98" y="286.83" width="3.3" height="60.27" fill="#22c72a"/>
<rect x="314.28" y="290.82" width="3.65" height="56.28" fill="#fdc592"/>
<rect x="320.06" y="285.85" width="3.3" height="61.25" fill="#22c72a"/>
<rect x="323.36" y="287.11" width="3.65" height="59.99" fill="#fdc592"/>
<rect x="329.14" y="285.85" width="3.3" height="61.25" fill="#22c72a"/>
<rect x="332.44" y="286.69" width="3.65" height="60.41" fill="#fdc592"/>
<rect x="338.22" y="285.36" width="3.3" height="61.74" fill="#22c72a"/>
<rect x="341.52" y="286.34" width="3.65" height="60.76" fill="#fdc592"/>
<rect x="347.30" y="285.15" width="3.3" height="61.95" fill="#22c72a"/>
<rect x="350.60" y="286.27" width="3.65" height="60.83" fill="#fdc592"/>
<rect x="356.38" y="284.87" width="3.3" height="62.23" fill="#22c72a"/>
<rect x="359.68" y="285.71" width="3.65" height="61.39" fill="#fdc592"/>
<rect x="365.46" y="284.52" width="3.3" height="62.58" fill="#22c72a"/>
<rect x="368.76" y="285.22" width="3.65" height="61.88" fill="#fdc592"/>
<rect x="374.54" y="284.38" width="3.3" height="62.72" fill="#22c72a"/>
<rect x="377.84" y="284.80" width="3.65" height="62.30" fill="#fdc592"/>
<rect x="383.62" y="284.10" width="3.3" height="63.00" fill="#22c72a"/>
<rect x="386.92" y="284.45" width="3.65" height="62.65" fill="#fdc592"/>
<rect x="392.70" y="283.89" width="3.3" height="63.21" fill="#22c72a"/>
<rect x="396.00" y="283.89" width="3.65" height="63.21" fill="#fdc592"/>
<polyline points="305.30,300.20 314.38,288.79 323.46,285.92 332.54,285.01 341.62,284.45 350.70,283.96 359.78,283.40 368.86,283.05 377.94,282.84 387.02,282.63 396.10,282.42" fill="none" stroke="#c43c45" stroke-width="1.5"/>
<polygon points="305.30,298.10 305.80,299.51 307.30,299.55 306.11,300.46 306.53,301.90 305.30,301.05 304.07,301.90 304.49,300.46 303.30,299.55 304.80,299.51" fill="#c43c45"/>
<polygon points="314.38,286.69 314.88,288.10 316.38,288.14 315.19,289.05 315.61,290.49 314.38,289.64 313.15,290.49 313.57,289.05 312.38,288.14 313.88,288.10" fill="#c43c45"/>
<polygon points="323.46,283.82 323.96,285.23 325.46,285.27 324.27,286.18 324.69,287.62 323.46,286.77 322.23,287.62 322.65,286.18 321.46,285.27 322.96,285.23" fill="#c43c45"/>
<polygon points="332.54,282.91 333.04,284.32 334.54,284.36 333.35,285.27 333.77,286.71 332.54,285.86 331.31,286.71 331.73,285.27 330.54,284.36 332.04,284.32" fill="#c43c45"/>
<polygon points="341.62,282.35 342.12,283.76 343.62,283.80 342.43,284.71 342.85,286.15 341.62,285.30 340.39,286.15 340.81,284.71 339.62,283.80 341.12,283.76" fill="#c43c45"/>
<polygon points="350.70,281.86 351.20,283.27 352.70,283.31 351.51,284.22 351.93,285.66 350.70,284.81 349.47,285.66 349.89,284.22 348.70,283.31 350.20,283.27" fill="#c43c45"/>
<polygon points="359.78,281.30 360.28,282.71 361.78,282.75 360.59,283.66 361.01,285.10 359.78,284.25 358.55,285.10 358.97,283.66 357.78,282.75 359.28,282.71" fill="#c43c45"/>
<polygon points="368.86,280.95 369.36,282.36 370.86,282.40 369.67,283.31 370.09,284.75 368.86,283.90 367.63,284.75 368.05,283.31 366.86,282.40 368.36,282.36" fill="#c43c45"/>
<polygon points="377.94,280.74 378.44,282.15 379.94,282.19 378.75,283.10 379.17,284.54 377.94,283.69 376.71,284.54 377.13,283.10 375.94,282.19 377.44,282.15" fill="#c43c45"/>
<polygon points="387.02,280.53 387.52,281.94 389.02,281.98 387.83,282.89 388.25,284.33 387.02,283.48 385.79,284.33 386.21,282.89 385.02,281.98 386.52,281.94" fill="#c43c45"/>
<polygon points="396.10,280.32 396.60,281.73 398.10,281.77 396.91,282.68 397.33,284.12 396.10,283.27 394.87,284.12 395.29,282.68 394.10,281.77 395.60,281.73" fill="#c43c45"/>
<text x="293.50" y="349.70" font-size="7.4" text-anchor="end" font-family="DejaVu Sans, sans-serif" font-weight="bold" fill="#000" >0.0</text>
<text x="293.50" y="335.70" font-size="7.4" text-anchor="end" font-family="DejaVu Sans, sans-serif" font-weight="bold" fill="#000" >0.2</text>
<text x="293.50" y="321.70" font-size="7.4" text-anchor="end" font-family="DejaVu Sans, sans-serif" font-weight="bold" fill="#000" >0.4</text>
<text x="293.50" y="307.70" font-size="7.4" text-anchor="end" font-family="DejaVu Sans, sans-serif" font-weight="bold" fill="#000" >0.6</text>
<text x="293.50" y="293.70" font-size="7.4" text-anchor="end" font-family="DejaVu Sans, sans-serif" font-weight="bold" fill="#000" >0.8</text>
<text x="293.50" y="279.70" font-size="7.4" text-anchor="end" font-family="DejaVu Sans, sans-serif" font-weight="bold" fill="#000" >1.0</text>
<text x="305.30" y="356.70" font-size="7.0" text-anchor="middle" font-family="DejaVu Sans, sans-serif" font-weight="bold" fill="#000" >0</text>
<text x="314.38" y="356.70" font-size="7.0" text-anchor="middle" font-family="DejaVu Sans, sans-serif" font-weight="bold" fill="#000" >1</text>
<text x="323.46" y="356.70" font-size="7.0" text-anchor="middle" font-family="DejaVu Sans, sans-serif" font-weight="bold" fill="#000" >2</text>
<text x="332.54" y="356.70" font-size="7.0" text-anchor="middle" font-family="DejaVu Sans, sans-serif" font-weight="bold" fill="#000" >3</text>
<text x="341.62" y="356.70" font-size="7.0" text-anchor="middle" font-family="DejaVu Sans, sans-serif" font-weight="bold" fill="#000" >4</text>
<text x="350.70" y="356.70" font-size="7.0" text-anchor="middle" font-family="DejaVu Sans, sans-serif" font-weight="bold" fill="#000" >5</text>
<text x="359.78" y="356.70" font-size="7.0" text-anchor="middle" font-family="DejaVu Sans, sans-serif" font-weight="bold" fill="#000" >6</text>
<text x="368.86" y="356.70" font-size="7.0" text-anchor="middle" font-family="DejaVu Sans, sans-serif" font-weight="bold" fill="#000" >7</text>
<text x="377.94" y="356.70" font-size="7.0" text-anchor="middle" font-family="DejaVu Sans, sans-serif" font-weight="bold" fill="#000" >8</text>
<text x="387.02" y="356.70" font-size="7.0" text-anchor="middle" font-family="DejaVu Sans, sans-serif" font-weight="bold" fill="#000" >9</text>
<text x="396.10" y="356.70" font-size="7.0" text-anchor="middle" font-family="DejaVu Sans, sans-serif" font-weight="bold" fill="#000" >10</text>
<text x="350.70" y="366.20" font-size="7.9" text-anchor="middle" font-family="DejaVu Sans, sans-serif" font-weight="bold" fill="#000" >Iteration</text>
<text x="274.40" y="312.30" font-size="8.2" text-anchor="middle" font-family="DejaVu Sans, sans-serif" font-weight="bold" transform="rotate(-90 274.40 312.30)" dy="2.8">Metric Value</text>
<text x="348.60" y="377.30" font-size="9.9" text-anchor="middle" font-family="Liberation Serif, serif" stroke="#000" stroke-width="0.18" fill="#000" >(h)</text>
<rect x="297.7" y="258.0" width="105.80" height="18.80" fill="#fff" stroke="#e2e2e2" stroke-width="0.7" rx="0.8"/>
<line x1="299.59999999999997" y1="263.0" x2="312.5" y2="263.0" stroke="#c43c45" stroke-width="1.3"/>
<polygon points="305.90,260.70 306.43,262.27 308.09,262.29 306.76,263.28 307.25,264.86 305.90,263.90 304.55,264.86 305.04,263.28 303.71,262.29 305.37,262.27" fill="#c43c45"/>
<rect x="300.4" y="270.2" width="11.5" height="3.7" fill="#22c72a"/>
<rect x="364.59999999999997" y="260.9" width="11.7" height="3.7" fill="#fdc592"/>
<text x="316.70" y="265.60" font-size="6.0" text-anchor="start" font-family="DejaVu Sans, sans-serif" font-weight="bold" fill="#1a1a1a" >F-Measure</text>
<text x="316.70" y="274.20" font-size="6.0" text-anchor="start" font-family="DejaVu Sans, sans-serif" font-weight="bold" fill="#1a1a1a" >Precision</text>
<text x="381.40" y="265.30" font-size="6.0" text-anchor="start" font-family="DejaVu Sans, sans-serif" font-weight="bold" fill="#1a1a1a" >Recall</text>
<rect x="434.6" y="6.3" width="110.70" height="88.40" fill="none" stroke="#a0a0a0" stroke-width="0.9"/>
<line x1="432.70" y1="86.80" x2="434.60" y2="86.80" stroke="#a0a0a0" stroke-width="0.8"/>
<text x="431.80" y="89.50" font-size="7.5" text-anchor="end" font-family="DejaVu Sans, sans-serif" font-weight="bold" fill="#000" >10</text>
<line x1="432.70" y1="70.75" x2="434.60" y2="70.75" stroke="#a0a0a0" stroke-width="0.8"/>
<text x="431.80" y="73.45" font-size="7.5" text-anchor="end" font-family="DejaVu Sans, sans-serif" font-weight="bold" fill="#000" >15</text>
<line x1="432.70" y1="54.70" x2="434.60" y2="54.70" stroke="#a0a0a0" stroke-width="0.8"/>
<text x="431.80" y="57.40" font-size="7.5" text-anchor="end" font-family="DejaVu Sans, sans-serif" font-weight="bold" fill="#000" >20</text>
<line x1="432.70" y1="38.65" x2="434.60" y2="38.65" stroke="#a0a0a0" stroke-width="0.8"/>
<text x="431.80" y="41.35" font-size="7.5" text-anchor="end" font-family="DejaVu Sans, sans-serif" font-weight="bold" fill="#000" >25</text>
<line x1="432.70" y1="22.60" x2="434.60" y2="22.60" stroke="#a0a0a0" stroke-width="0.8"/>
<text x="431.80" y="25.30" font-size="7.5" text-anchor="end" font-family="DejaVu Sans, sans-serif" font-weight="bold" fill="#000" >30</text>
<line x1="439.20" y1="94.70" x2="439.20" y2="96.60" stroke="#a0a0a0" stroke-width="0.8"/>
<text x="439.20" y="103.80" font-size="7.1" text-anchor="middle" font-family="DejaVu Sans, sans-serif" font-weight="bold" fill="#000" >0</text>
<line x1="449.28" y1="94.70" x2="449.28" y2="96.60" stroke="#a0a0a0" stroke-width="0.8"/>
<text x="449.28" y="103.80" font-size="7.1" text-anchor="middle" font-family="DejaVu Sans, sans-serif" font-weight="bold" fill="#000" >1</text>
<line x1="459.36" y1="94.70" x2="459.36" y2="96.60" stroke="#a0a0a0" stroke-width="0.8"/>
<text x="459.36" y="103.80" font-size="7.1" text-anchor="middle" font-family="DejaVu Sans, sans-serif" font-weight="bold" fill="#000" >2</text>
<line x1="469.44" y1="94.70" x2="469.44" y2="96.60" stroke="#a0a0a0" stroke-width="0.8"/>
<text x="469.44" y="103.80" font-size="7.1" text-anchor="middle" font-family="DejaVu Sans, sans-serif" font-weight="bold" fill="#000" >3</text>
<line x1="479.52" y1="94.70" x2="479.52" y2="96.60" stroke="#a0a0a0" stroke-width="0.8"/>
<text x="479.52" y="103.80" font-size="7.1" text-anchor="middle" font-family="DejaVu Sans, sans-serif" font-weight="bold" fill="#000" >4</text>
<line x1="489.60" y1="94.70" x2="489.60" y2="96.60" stroke="#a0a0a0" stroke-width="0.8"/>
<text x="489.60" y="103.80" font-size="7.1" text-anchor="middle" font-family="DejaVu Sans, sans-serif" font-weight="bold" fill="#000" >5</text>
<line x1="499.68" y1="94.70" x2="499.68" y2="96.60" stroke="#a0a0a0" stroke-width="0.8"/>
<text x="499.68" y="103.80" font-size="7.1" text-anchor="middle" font-family="DejaVu Sans, sans-serif" font-weight="bold" fill="#000" >6</text>
<line x1="509.76" y1="94.70" x2="509.76" y2="96.60" stroke="#a0a0a0" stroke-width="0.8"/>
<text x="509.76" y="103.80" font-size="7.1" text-anchor="middle" font-family="DejaVu Sans, sans-serif" font-weight="bold" fill="#000" >7</text>
<line x1="519.84" y1="94.70" x2="519.84" y2="96.60" stroke="#a0a0a0" stroke-width="0.8"/>
<text x="519.84" y="103.80" font-size="7.1" text-anchor="middle" font-family="DejaVu Sans, sans-serif" font-weight="bold" fill="#000" >8</text>
<line x1="529.92" y1="94.70" x2="529.92" y2="96.60" stroke="#a0a0a0" stroke-width="0.8"/>
<text x="529.92" y="103.80" font-size="7.1" text-anchor="middle" font-family="DejaVu Sans, sans-serif" font-weight="bold" fill="#000" >9</text>
<line x1="540.00" y1="94.70" x2="540.00" y2="96.60" stroke="#a0a0a0" stroke-width="0.8"/>
<text x="540.00" y="103.80" font-size="7.1" text-anchor="middle" font-family="DejaVu Sans, sans-serif" font-weight="bold" fill="#000" >10</text>
<polyline points="439.20,10.40 449.28,59.40 459.36,77.50 469.44,79.30 479.52,82.10 489.60,85.60 499.68,87.30 509.76,89.00 519.84,89.70 529.92,90.20 540.00,91.10" fill="none" stroke="#2e8b2e" stroke-width="1.1" stroke-dasharray="3,1.6"/>
<path d="M439.20,6.80 C440.10,7.90 442.70,9.10 442.70,11.30 C442.70,12.90 440.80,13.40 439.70,12.30 L440.40,14.10 L438.00,14.10 L438.70,12.30 C437.60,13.40 435.70,12.90 435.70,11.30 C435.70,9.10 438.30,7.90 439.20,6.80Z" fill="#006400"/>
<path d="M449.28,55.80 C450.18,56.90 452.78,58.10 452.78,60.30 C452.78,61.90 450.88,62.40 449.78,61.30 L450.48,63.10 L448.08,63.10 L448.78,61.30 C447.68,62.40 445.78,61.90 445.78,60.30 C445.78,58.10 448.38,56.90 449.28,55.80Z" fill="#006400"/>
<path d="M459.36,73.90 C460.26,75.00 462.86,76.20 462.86,78.40 C462.86,80.00 460.96,80.50 459.86,79.40 L460.56,81.20 L458.16,81.20 L458.86,79.40 C457.76,80.50 455.86,80.00 455.86,78.40 C455.86,76.20 458.46,75.00 459.36,73.90Z" fill="#006400"/>
<path d="M469.44,75.70 C470.34,76.80 472.94,78.00 472.94,80.20 C472.94,81.80 471.04,82.30 469.94,81.20 L470.64,83.00 L468.24,83.00 L468.94,81.20 C467.84,82.30 465.94,81.80 465.94,80.20 C465.94,78.00 468.54,76.80 469.44,75.70Z" fill="#006400"/>
<path d="M479.52,78.50 C480.42,79.60 483.02,80.80 483.02,83.00 C483.02,84.60 481.12,85.10 480.02,84.00 L480.72,85.80 L478.32,85.80 L479.02,84.00 C477.92,85.10 476.02,84.60 476.02,83.00 C476.02,80.80 478.62,79.60 479.52,78.50Z" fill="#006400"/>
<path d="M489.60,82.00 C490.50,83.10 493.10,84.30 493.10,86.50 C493.10,88.10 491.20,88.60 490.10,87.50 L490.80,89.30 L488.40,89.30 L489.10,87.50 C488.00,88.60 486.10,88.10 486.10,86.50 C486.10,84.30 488.70,83.10 489.60,82.00Z" fill="#006400"/>
<path d="M499.68,83.70 C500.58,84.80 503.18,86.00 503.18,88.20 C503.18,89.80 501.28,90.30 500.18,89.20 L500.88,91.00 L498.48,91.00 L499.18,89.20 C498.08,90.30 496.18,89.80 496.18,88.20 C496.18,86.00 498.78,84.80 499.68,83.70Z" fill="#006400"/>
<path d="M509.76,85.40 C510.66,86.50 513.26,87.70 513.26,89.90 C513.26,91.50 511.36,92.00 510.26,90.90 L510.96,92.70 L508.56,92.70 L509.26,90.90 C508.16,92.00 506.26,91.50 506.26,89.90 C506.26,87.70 508.86,86.50 509.76,85.40Z" fill="#006400"/>
<path d="M519.84,86.10 C520.74,87.20 523.34,88.40 523.34,90.60 C523.34,92.20 521.44,92.70 520.34,91.60 L521.04,93.40 L518.64,93.40 L519.34,91.60 C518.24,92.70 516.34,92.20 516.34,90.60 C516.34,88.40 518.94,87.20 519.84,86.10Z" fill="#006400"/>
<path d="M529.92,86.60 C530.82,87.70 533.42,88.90 533.42,91.10 C533.42,92.70 531.52,93.20 530.42,92.10 L531.12,93.90 L528.72,93.90 L529.42,92.10 C528.32,93.20 526.42,92.70 526.42,91.10 C526.42,88.90 529.02,87.70 529.92,86.60Z" fill="#006400"/>
<path d="M540.00,87.50 C540.90,88.60 543.50,89.80 543.50,92.00 C543.50,93.60 541.60,94.10 540.50,93.00 L541.20,94.80 L538.80,94.80 L539.50,93.00 C538.40,94.10 536.50,93.60 536.50,92.00 C536.50,89.80 539.10,88.60 540.00,87.50Z" fill="#006400"/>
<polyline points="439.20,82.10 449.28,73.80 459.36,74.30 469.44,74.20 479.52,77.30 489.60,79.90 499.68,80.70 509.76,82.80 519.84,82.80 529.92,83.80 540.00,84.70" fill="none" stroke="#d62728" stroke-width="1.0" stroke-dasharray="3,1.6"/>
<circle cx="439.20" cy="82.10" r="2.95" fill="none" stroke="#d62728" stroke-width="1.15"/>
<circle cx="439.20" cy="82.20" r="0.75" fill="#d62728"/>
<circle cx="449.28" cy="73.80" r="2.95" fill="none" stroke="#d62728" stroke-width="1.15"/>
<circle cx="449.28" cy="73.90" r="0.75" fill="#d62728"/>
<circle cx="459.36" cy="74.30" r="2.95" fill="none" stroke="#d62728" stroke-width="1.15"/>
<circle cx="459.36" cy="74.40" r="0.75" fill="#d62728"/>
<circle cx="469.44" cy="74.20" r="2.95" fill="none" stroke="#d62728" stroke-width="1.15"/>
<circle cx="469.44" cy="74.30" r="0.75" fill="#d62728"/>
<circle cx="479.52" cy="77.30" r="2.95" fill="none" stroke="#d62728" stroke-width="1.15"/>
<circle cx="479.52" cy="77.40" r="0.75" fill="#d62728"/>
<circle cx="489.60" cy="79.90" r="2.95" fill="none" stroke="#d62728" stroke-width="1.15"/>
<circle cx="489.60" cy="80.00" r="0.75" fill="#d62728"/>
<circle cx="499.68" cy="80.70" r="2.95" fill="none" stroke="#d62728" stroke-width="1.15"/>
<circle cx="499.68" cy="80.80" r="0.75" fill="#d62728"/>
<circle cx="509.76" cy="82.80" r="2.95" fill="none" stroke="#d62728" stroke-width="1.15"/>
<circle cx="509.76" cy="82.90" r="0.75" fill="#d62728"/>
<circle cx="519.84" cy="82.80" r="2.95" fill="none" stroke="#d62728" stroke-width="1.15"/>
<circle cx="519.84" cy="82.90" r="0.75" fill="#d62728"/>
<circle cx="529.92" cy="83.80" r="2.95" fill="none" stroke="#d62728" stroke-width="1.15"/>
<circle cx="529.92" cy="83.90" r="0.75" fill="#d62728"/>
<circle cx="540.00" cy="84.70" r="2.95" fill="none" stroke="#d62728" stroke-width="1.15"/>
<circle cx="540.00" cy="84.80" r="0.75" fill="#d62728"/>
<rect x="451.6" y="5.50" width="71.30" height="18.30" fill="#fff" stroke="#e6e6e6" stroke-width="0.7" rx="0.8"/>
<line x1="456.20" y1="9.90" x2="467.60" y2="9.90" stroke="#2e8b2e" stroke-width="1.1" stroke-dasharray="2.4,1.6"/>
<path d="M463.60,6.30 C464.50,7.40 467.10,8.60 467.10,10.80 C467.10,12.40 465.20,12.90 464.10,11.80 L464.80,13.60 L462.40,13.60 L463.10,11.80 C462.00,12.90 460.10,12.40 460.10,10.80 C460.10,8.60 462.70,7.40 463.60,6.30Z" fill="#006400"/>
<line x1="457.00" y1="18.40" x2="469.20" y2="18.40" stroke="#d62728" stroke-width="1.0" stroke-dasharray="2.4,1.6"/>
<circle cx="463.60" cy="18.40" r="2.95" fill="none" stroke="#d62728" stroke-width="1.15"/>
<circle cx="463.60" cy="18.50" r="0.75" fill="#d62728"/>
<text x="474.80" y="11.30" font-size="5.4" font-family="DejaVu Sans, sans-serif" font-weight="bold" fill="#1a1a1a">N</text>
<text x="479.50" y="13.60" font-size="5.1" font-family="DejaVu Sans, sans-serif" font-weight="bold" fill="#222">fn</text>
<text x="487.10" y="11.00" font-size="5.3" font-family="DejaVu Sans, sans-serif" font-weight="bold" fill="#222">per image</text>
<text x="474.80" y="19.50" font-size="5.4" font-family="DejaVu Sans, sans-serif" font-weight="bold" fill="#1a1a1a">N</text>
<text x="479.50" y="21.80" font-size="5.1" font-family="DejaVu Sans, sans-serif" font-weight="bold" fill="#222">fp</text>
<text x="487.10" y="19.20" font-size="5.3" font-family="DejaVu Sans, sans-serif" font-weight="bold" fill="#222">per image</text>
<text x="489.50" y="113.20" font-size="7.9" text-anchor="middle" font-family="DejaVu Sans, sans-serif" font-weight="bold" fill="#000" >Iteration</text>
<text x="416.00" y="50.90" font-size="8.15" text-anchor="middle" font-family="DejaVu Sans, sans-serif" font-weight="bold" transform="rotate(-90 416.00 50.90)" dy="2.8">Metric Value</text>
<text x="492.60" y="124.40" font-size="9.9" text-anchor="middle" font-family="Liberation Serif, serif" stroke="#000" stroke-width="0.18" fill="#000" >(c)</text>
<rect x="434.4" y="133.3" width="110.70" height="88.00" fill="none" stroke="#a0a0a0" stroke-width="0.9"/>
<line x1="432.50" y1="212.80" x2="434.40" y2="212.80" stroke="#a0a0a0" stroke-width="0.8"/>
<text x="431.60" y="215.50" font-size="7.5" text-anchor="end" font-family="DejaVu Sans, sans-serif" font-weight="bold" fill="#000" >15</text>
<line x1="432.50" y1="202.87" x2="434.40" y2="202.87" stroke="#a0a0a0" stroke-width="0.8"/>
<text x="431.60" y="205.57" font-size="7.5" text-anchor="end" font-family="DejaVu Sans, sans-serif" font-weight="bold" fill="#000" >20</text>
<line x1="432.50" y1="192.94" x2="434.40" y2="192.94" stroke="#a0a0a0" stroke-width="0.8"/>
<text x="431.60" y="195.64" font-size="7.5" text-anchor="end" font-family="DejaVu Sans, sans-serif" font-weight="bold" fill="#000" >25</text>
<line x1="432.50" y1="183.01" x2="434.40" y2="183.01" stroke="#a0a0a0" stroke-width="0.8"/>
<text x="431.60" y="185.71" font-size="7.5" text-anchor="end" font-family="DejaVu Sans, sans-serif" font-weight="bold" fill="#000" >30</text>
<line x1="432.50" y1="173.08" x2="434.40" y2="173.08" stroke="#a0a0a0" stroke-width="0.8"/>
<text x="431.60" y="175.78" font-size="7.5" text-anchor="end" font-family="DejaVu Sans, sans-serif" font-weight="bold" fill="#000" >35</text>
<line x1="432.50" y1="163.15" x2="434.40" y2="163.15" stroke="#a0a0a0" stroke-width="0.8"/>
<text x="431.60" y="165.85" font-size="7.5" text-anchor="end" font-family="DejaVu Sans, sans-serif" font-weight="bold" fill="#000" >40</text>
<line x1="432.50" y1="153.22" x2="434.40" y2="153.22" stroke="#a0a0a0" stroke-width="0.8"/>
<text x="431.60" y="155.92" font-size="7.5" text-anchor="end" font-family="DejaVu Sans, sans-serif" font-weight="bold" fill="#000" >45</text>
<line x1="432.50" y1="143.29" x2="434.40" y2="143.29" stroke="#a0a0a0" stroke-width="0.8"/>
<text x="431.60" y="145.99" font-size="7.5" text-anchor="end" font-family="DejaVu Sans, sans-serif" font-weight="bold" fill="#000" >50</text>
<line x1="439.30" y1="221.30" x2="439.30" y2="223.20" stroke="#a0a0a0" stroke-width="0.8"/>
<text x="439.30" y="230.40" font-size="7.1" text-anchor="middle" font-family="DejaVu Sans, sans-serif" font-weight="bold" fill="#000" >0</text>
<line x1="449.39" y1="221.30" x2="449.39" y2="223.20" stroke="#a0a0a0" stroke-width="0.8"/>
<text x="449.39" y="230.40" font-size="7.1" text-anchor="middle" font-family="DejaVu Sans, sans-serif" font-weight="bold" fill="#000" >1</text>
<line x1="459.48" y1="221.30" x2="459.48" y2="223.20" stroke="#a0a0a0" stroke-width="0.8"/>
<text x="459.48" y="230.40" font-size="7.1" text-anchor="middle" font-family="DejaVu Sans, sans-serif" font-weight="bold" fill="#000" >2</text>
<line x1="469.57" y1="221.30" x2="469.57" y2="223.20" stroke="#a0a0a0" stroke-width="0.8"/>
<text x="469.57" y="230.40" font-size="7.1" text-anchor="middle" font-family="DejaVu Sans, sans-serif" font-weight="bold" fill="#000" >3</text>
<line x1="479.66" y1="221.30" x2="479.66" y2="223.20" stroke="#a0a0a0" stroke-width="0.8"/>
<text x="479.66" y="230.40" font-size="7.1" text-anchor="middle" font-family="DejaVu Sans, sans-serif" font-weight="bold" fill="#000" >4</text>
<line x1="489.75" y1="221.30" x2="489.75" y2="223.20" stroke="#a0a0a0" stroke-width="0.8"/>
<text x="489.75" y="230.40" font-size="7.1" text-anchor="middle" font-family="DejaVu Sans, sans-serif" font-weight="bold" fill="#000" >5</text>
<line x1="499.84" y1="221.30" x2="499.84" y2="223.20" stroke="#a0a0a0" stroke-width="0.8"/>
<text x="499.84" y="230.40" font-size="7.1" text-anchor="middle" font-family="DejaVu Sans, sans-serif" font-weight="bold" fill="#000" >6</text>
<line x1="509.93" y1="221.30" x2="509.93" y2="223.20" stroke="#a0a0a0" stroke-width="0.8"/>
<text x="509.93" y="230.40" font-size="7.1" text-anchor="middle" font-family="DejaVu Sans, sans-serif" font-weight="bold" fill="#000" >7</text>
<line x1="520.02" y1="221.30" x2="520.02" y2="223.20" stroke="#a0a0a0" stroke-width="0.8"/>
<text x="520.02" y="230.40" font-size="7.1" text-anchor="middle" font-family="DejaVu Sans, sans-serif" font-weight="bold" fill="#000" >8</text>
<line x1="530.11" y1="221.30" x2="530.11" y2="223.20" stroke="#a0a0a0" stroke-width="0.8"/>
<text x="530.11" y="230.40" font-size="7.1" text-anchor="middle" font-family="DejaVu Sans, sans-serif" font-weight="bold" fill="#000" >9</text>
<line x1="540.20" y1="221.30" x2="540.20" y2="223.20" stroke="#a0a0a0" stroke-width="0.8"/>
<text x="540.20" y="230.40" font-size="7.1" text-anchor="middle" font-family="DejaVu Sans, sans-serif" font-weight="bold" fill="#000" >10</text>
<polyline points="439.30,137.30 449.39,192.30 459.48,205.40 469.57,207.50 479.66,209.70 489.75,211.40 499.84,214.20 509.93,214.60 520.02,215.10 530.11,216.30 540.20,217.10" fill="none" stroke="#2e8b2e" stroke-width="1.1" stroke-dasharray="3,1.6"/>
<path d="M439.30,133.70 C440.20,134.80 442.80,136.00 442.80,138.20 C442.80,139.80 440.90,140.30 439.80,139.20 L440.50,141.00 L438.10,141.00 L438.80,139.20 C437.70,140.30 435.80,139.80 435.80,138.20 C435.80,136.00 438.40,134.80 439.30,133.70Z" fill="#006400"/>
<path d="M449.39,188.70 C450.29,189.80 452.89,191.00 452.89,193.20 C452.89,194.80 450.99,195.30 449.89,194.20 L450.59,196.00 L448.19,196.00 L448.89,194.20 C447.79,195.30 445.89,194.80 445.89,193.20 C445.89,191.00 448.49,189.80 449.39,188.70Z" fill="#006400"/>
<path d="M459.48,201.80 C460.38,202.90 462.98,204.10 462.98,206.30 C462.98,207.90 461.08,208.40 459.98,207.30 L460.68,209.10 L458.28,209.10 L458.98,207.30 C457.88,208.40 455.98,207.90 455.98,206.30 C455.98,204.10 458.58,202.90 459.48,201.80Z" fill="#006400"/>
<path d="M469.57,203.90 C470.47,205.00 473.07,206.20 473.07,208.40 C473.07,210.00 471.17,210.50 470.07,209.40 L470.77,211.20 L468.37,211.20 L469.07,209.40 C467.97,210.50 466.07,210.00 466.07,208.40 C466.07,206.20 468.67,205.00 469.57,203.90Z" fill="#006400"/>
<path d="M479.66,206.10 C480.56,207.20 483.16,208.40 483.16,210.60 C483.16,212.20 481.26,212.70 480.16,211.60 L480.86,213.40 L478.46,213.40 L479.16,211.60 C478.06,212.70 476.16,212.20 476.16,210.60 C476.16,208.40 478.76,207.20 479.66,206.10Z" fill="#006400"/>
<path d="M489.75,207.80 C490.65,208.90 493.25,210.10 493.25,212.30 C493.25,213.90 491.35,214.40 490.25,213.30 L490.95,215.10 L488.55,215.10 L489.25,213.30 C488.15,214.40 486.25,213.90 486.25,212.30 C486.25,210.10 488.85,208.90 489.75,207.80Z" fill="#006400"/>
<path d="M499.84,210.60 C500.74,211.70 503.34,212.90 503.34,215.10 C503.34,216.70 501.44,217.20 500.34,216.10 L501.04,217.90 L498.64,217.90 L499.34,216.10 C498.24,217.20 496.34,216.70 496.34,215.10 C496.34,212.90 498.94,211.70 499.84,210.60Z" fill="#006400"/>
<path d="M509.93,211.00 C510.83,212.10 513.43,213.30 513.43,215.50 C513.43,217.10 511.53,217.60 510.43,216.50 L511.13,218.30 L508.73,218.30 L509.43,216.50 C508.33,217.60 506.43,217.10 506.43,215.50 C506.43,213.30 509.03,212.10 509.93,211.00Z" fill="#006400"/>
<path d="M520.02,211.50 C520.92,212.60 523.52,213.80 523.52,216.00 C523.52,217.60 521.62,218.10 520.52,217.00 L521.22,218.80 L518.82,218.80 L519.52,217.00 C518.42,218.10 516.52,217.60 516.52,216.00 C516.52,213.80 519.12,212.60 520.02,211.50Z" fill="#006400"/>
<path d="M530.11,212.70 C531.01,213.80 533.61,215.00 533.61,217.20 C533.61,218.80 531.71,219.30 530.61,218.20 L531.31,220.00 L528.91,220.00 L529.61,218.20 C528.51,219.30 526.61,218.80 526.61,217.20 C526.61,215.00 529.21,213.80 530.11,212.70Z" fill="#006400"/>
<path d="M540.20,213.50 C541.10,214.60 543.70,215.80 543.70,218.00 C543.70,219.60 541.80,220.10 540.70,219.00 L541.40,220.80 L539.00,220.80 L539.70,219.00 C538.60,220.10 536.70,219.60 536.70,218.00 C536.70,215.80 539.30,214.60 540.20,213.50Z" fill="#006400"/>
<polyline points="439.30,207.00 449.39,204.60 459.48,208.90 469.57,208.90 479.66,210.20 489.75,211.00 499.84,212.20 509.93,213.80 520.02,213.00 530.11,213.80 540.20,215.50" fill="none" stroke="#d62728" stroke-width="1.0" stroke-dasharray="3,1.6"/>
<circle cx="439.30" cy="207.00" r="2.95" fill="none" stroke="#d62728" stroke-width="1.15"/>
<circle cx="439.30" cy="207.10" r="0.75" fill="#d62728"/>
<circle cx="449.39" cy="204.60" r="2.95" fill="none" stroke="#d62728" stroke-width="1.15"/>
<circle cx="449.39" cy="204.70" r="0.75" fill="#d62728"/>
<circle cx="459.48" cy="208.90" r="2.95" fill="none" stroke="#d62728" stroke-width="1.15"/>
<circle cx="459.48" cy="209.00" r="0.75" fill="#d62728"/>
<circle cx="469.57" cy="208.90" r="2.95" fill="none" stroke="#d62728" stroke-width="1.15"/>
<circle cx="469.57" cy="209.00" r="0.75" fill="#d62728"/>
<circle cx="479.66" cy="210.20" r="2.95" fill="none" stroke="#d62728" stroke-width="1.15"/>
<circle cx="479.66" cy="210.30" r="0.75" fill="#d62728"/>
<circle cx="489.75" cy="211.00" r="2.95" fill="none" stroke="#d62728" stroke-width="1.15"/>
<circle cx="489.75" cy="211.10" r="0.75" fill="#d62728"/>
<circle cx="499.84" cy="212.20" r="2.95" fill="none" stroke="#d62728" stroke-width="1.15"/>
<circle cx="499.84" cy="212.30" r="0.75" fill="#d62728"/>
<circle cx="509.93" cy="213.80" r="2.95" fill="none" stroke="#d62728" stroke-width="1.15"/>
<circle cx="509.93" cy="213.90" r="0.75" fill="#d62728"/>
<circle cx="520.02" cy="213.00" r="2.95" fill="none" stroke="#d62728" stroke-width="1.15"/>
<circle cx="520.02" cy="213.10" r="0.75" fill="#d62728"/>
<circle cx="530.11" cy="213.80" r="2.95" fill="none" stroke="#d62728" stroke-width="1.15"/>
<circle cx="530.11" cy="213.90" r="0.75" fill="#d62728"/>
<circle cx="540.20" cy="215.50" r="2.95" fill="none" stroke="#d62728" stroke-width="1.15"/>
<circle cx="540.20" cy="215.60" r="0.75" fill="#d62728"/>
<rect x="451.2" y="132.50" width="71.30" height="18.30" fill="#fff" stroke="#e6e6e6" stroke-width="0.7" rx="0.8"/>
<line x1="455.80" y1="136.90" x2="467.20" y2="136.90" stroke="#2e8b2e" stroke-width="1.1" stroke-dasharray="2.4,1.6"/>
<path d="M463.20,133.30 C464.10,134.40 466.70,135.60 466.70,137.80 C466.70,139.40 464.80,139.90 463.70,138.80 L464.40,140.60 L462.00,140.60 L462.70,138.80 C461.60,139.90 459.70,139.40 459.70,137.80 C459.70,135.60 462.30,134.40 463.20,133.30Z" fill="#006400"/>
<line x1="456.60" y1="145.40" x2="468.80" y2="145.40" stroke="#d62728" stroke-width="1.0" stroke-dasharray="2.4,1.6"/>
<circle cx="463.20" cy="145.40" r="2.95" fill="none" stroke="#d62728" stroke-width="1.15"/>
<circle cx="463.20" cy="145.50" r="0.75" fill="#d62728"/>
<text x="474.40" y="138.30" font-size="5.4" font-family="DejaVu Sans, sans-serif" font-weight="bold" fill="#1a1a1a">N</text>
<text x="479.10" y="140.60" font-size="5.1" font-family="DejaVu Sans, sans-serif" font-weight="bold" fill="#222">fn</text>
<text x="486.70" y="138.00" font-size="5.3" font-family="DejaVu Sans, sans-serif" font-weight="bold" fill="#222">per image</text>
<text x="474.40" y="146.50" font-size="5.4" font-family="DejaVu Sans, sans-serif" font-weight="bold" fill="#1a1a1a">N</text>
<text x="479.10" y="148.80" font-size="5.1" font-family="DejaVu Sans, sans-serif" font-weight="bold" fill="#222">fp</text>
<text x="486.70" y="146.20" font-size="5.3" font-family="DejaVu Sans, sans-serif" font-weight="bold" fill="#222">per image</text>
<text x="489.50" y="239.70" font-size="7.9" text-anchor="middle" font-family="DejaVu Sans, sans-serif" font-weight="bold" fill="#000" >Iteration</text>
<text x="416.00" y="176.60" font-size="8.15" text-anchor="middle" font-family="DejaVu Sans, sans-serif" font-weight="bold" transform="rotate(-90 416.00 176.60)" dy="2.8">Metric Value</text>
<text x="492.60" y="250.90" font-size="9.9" text-anchor="middle" font-family="Liberation Serif, serif" stroke="#000" stroke-width="0.18" fill="#000" >(f)</text>
<rect x="439.4" y="259.3" width="105.70" height="88.10" fill="none" stroke="#a0a0a0" stroke-width="0.9"/>
<line x1="437.50" y1="341.10" x2="439.40" y2="341.10" stroke="#a0a0a0" stroke-width="0.8"/>
<text x="436.60" y="343.80" font-size="7.5" text-anchor="end" font-family="DejaVu Sans, sans-serif" font-weight="bold" fill="#000" >20</text>
<line x1="437.50" y1="322.95" x2="439.40" y2="322.95" stroke="#a0a0a0" stroke-width="0.8"/>
<text x="436.60" y="325.65" font-size="7.5" text-anchor="end" font-family="DejaVu Sans, sans-serif" font-weight="bold" fill="#000" >40</text>
<line x1="437.50" y1="304.80" x2="439.40" y2="304.80" stroke="#a0a0a0" stroke-width="0.8"/>
<text x="436.60" y="307.50" font-size="7.5" text-anchor="end" font-family="DejaVu Sans, sans-serif" font-weight="bold" fill="#000" >60</text>
<line x1="437.50" y1="286.65" x2="439.40" y2="286.65" stroke="#a0a0a0" stroke-width="0.8"/>
<text x="436.60" y="289.35" font-size="7.5" text-anchor="end" font-family="DejaVu Sans, sans-serif" font-weight="bold" fill="#000" >80</text>
<line x1="437.50" y1="268.50" x2="439.40" y2="268.50" stroke="#a0a0a0" stroke-width="0.8"/>
<text x="436.60" y="271.20" font-size="7.5" text-anchor="end" font-family="DejaVu Sans, sans-serif" font-weight="bold" fill="#000" >100</text>
<line x1="444.00" y1="347.40" x2="444.00" y2="349.30" stroke="#a0a0a0" stroke-width="0.8"/>
<text x="444.00" y="356.50" font-size="7.1" text-anchor="middle" font-family="DejaVu Sans, sans-serif" font-weight="bold" fill="#000" >0</text>
<line x1="453.67" y1="347.40" x2="453.67" y2="349.30" stroke="#a0a0a0" stroke-width="0.8"/>
<text x="453.67" y="356.50" font-size="7.1" text-anchor="middle" font-family="DejaVu Sans, sans-serif" font-weight="bold" fill="#000" >1</text>
<line x1="463.34" y1="347.40" x2="463.34" y2="349.30" stroke="#a0a0a0" stroke-width="0.8"/>
<text x="463.34" y="356.50" font-size="7.1" text-anchor="middle" font-family="DejaVu Sans, sans-serif" font-weight="bold" fill="#000" >2</text>
<line x1="473.01" y1="347.40" x2="473.01" y2="349.30" stroke="#a0a0a0" stroke-width="0.8"/>
<text x="473.01" y="356.50" font-size="7.1" text-anchor="middle" font-family="DejaVu Sans, sans-serif" font-weight="bold" fill="#000" >3</text>
<line x1="482.68" y1="347.40" x2="482.68" y2="349.30" stroke="#a0a0a0" stroke-width="0.8"/>
<text x="482.68" y="356.50" font-size="7.1" text-anchor="middle" font-family="DejaVu Sans, sans-serif" font-weight="bold" fill="#000" >4</text>
<line x1="492.35" y1="347.40" x2="492.35" y2="349.30" stroke="#a0a0a0" stroke-width="0.8"/>
<text x="492.35" y="356.50" font-size="7.1" text-anchor="middle" font-family="DejaVu Sans, sans-serif" font-weight="bold" fill="#000" >5</text>
<line x1="502.02" y1="347.40" x2="502.02" y2="349.30" stroke="#a0a0a0" stroke-width="0.8"/>
<text x="502.02" y="356.50" font-size="7.1" text-anchor="middle" font-family="DejaVu Sans, sans-serif" font-weight="bold" fill="#000" >6</text>
<line x1="511.69" y1="347.40" x2="511.69" y2="349.30" stroke="#a0a0a0" stroke-width="0.8"/>
<text x="511.69" y="356.50" font-size="7.1" text-anchor="middle" font-family="DejaVu Sans, sans-serif" font-weight="bold" fill="#000" >7</text>
<line x1="521.36" y1="347.40" x2="521.36" y2="349.30" stroke="#a0a0a0" stroke-width="0.8"/>
<text x="521.36" y="356.50" font-size="7.1" text-anchor="middle" font-family="DejaVu Sans, sans-serif" font-weight="bold" fill="#000" >8</text>
<line x1="531.03" y1="347.40" x2="531.03" y2="349.30" stroke="#a0a0a0" stroke-width="0.8"/>
<text x="531.03" y="356.50" font-size="7.1" text-anchor="middle" font-family="DejaVu Sans, sans-serif" font-weight="bold" fill="#000" >9</text>
<line x1="540.70" y1="347.40" x2="540.70" y2="349.30" stroke="#a0a0a0" stroke-width="0.8"/>
<text x="540.70" y="356.50" font-size="7.1" text-anchor="middle" font-family="DejaVu Sans, sans-serif" font-weight="bold" fill="#000" >10</text>
<polyline points="444.00,262.80 453.67,316.90 463.34,327.80 473.01,330.30 482.68,332.10 492.35,333.20 502.02,336.30 511.69,337.40 521.36,337.90 531.03,338.70 540.70,339.50" fill="none" stroke="#2e8b2e" stroke-width="1.1" stroke-dasharray="3,1.6"/>
<path d="M444.00,259.20 C444.90,260.30 447.50,261.50 447.50,263.70 C447.50,265.30 445.60,265.80 444.50,264.70 L445.20,266.50 L442.80,266.50 L443.50,264.70 C442.40,265.80 440.50,265.30 440.50,263.70 C440.50,261.50 443.10,260.30 444.00,259.20Z" fill="#006400"/>
<path d="M453.67,313.30 C454.57,314.40 457.17,315.60 457.17,317.80 C457.17,319.40 455.27,319.90 454.17,318.80 L454.87,320.60 L452.47,320.60 L453.17,318.80 C452.07,319.90 450.17,319.40 450.17,317.80 C450.17,315.60 452.77,314.40 453.67,313.30Z" fill="#006400"/>
<path d="M463.34,324.20 C464.24,325.30 466.84,326.50 466.84,328.70 C466.84,330.30 464.94,330.80 463.84,329.70 L464.54,331.50 L462.14,331.50 L462.84,329.70 C461.74,330.80 459.84,330.30 459.84,328.70 C459.84,326.50 462.44,325.30 463.34,324.20Z" fill="#006400"/>
<path d="M473.01,326.70 C473.91,327.80 476.51,329.00 476.51,331.20 C476.51,332.80 474.61,333.30 473.51,332.20 L474.21,334.00 L471.81,334.00 L472.51,332.20 C471.41,333.30 469.51,332.80 469.51,331.20 C469.51,329.00 472.11,327.80 473.01,326.70Z" fill="#006400"/>
<path d="M482.68,328.50 C483.58,329.60 486.18,330.80 486.18,333.00 C486.18,334.60 484.28,335.10 483.18,334.00 L483.88,335.80 L481.48,335.80 L482.18,334.00 C481.08,335.10 479.18,334.60 479.18,333.00 C479.18,330.80 481.78,329.60 482.68,328.50Z" fill="#006400"/>
<path d="M492.35,329.60 C493.25,330.70 495.85,331.90 495.85,334.10 C495.85,335.70 493.95,336.20 492.85,335.10 L493.55,336.90 L491.15,336.90 L491.85,335.10 C490.75,336.20 488.85,335.70 488.85,334.10 C488.85,331.90 491.45,330.70 492.35,329.60Z" fill="#006400"/>
<path d="M502.02,332.70 C502.92,333.80 505.52,335.00 505.52,337.20 C505.52,338.80 503.62,339.30 502.52,338.20 L503.22,340.00 L500.82,340.00 L501.52,338.20 C500.42,339.30 498.52,338.80 498.52,337.20 C498.52,335.00 501.12,333.80 502.02,332.70Z" fill="#006400"/>
<path d="M511.69,333.80 C512.59,334.90 515.19,336.10 515.19,338.30 C515.19,339.90 513.29,340.40 512.19,339.30 L512.89,341.10 L510.49,341.10 L511.19,339.30 C510.09,340.40 508.19,339.90 508.19,338.30 C508.19,336.10 510.79,334.90 511.69,333.80Z" fill="#006400"/>
<path d="M521.36,334.30 C522.26,335.40 524.86,336.60 524.86,338.80 C524.86,340.40 522.96,340.90 521.86,339.80 L522.56,341.60 L520.16,341.60 L520.86,339.80 C519.76,340.90 517.86,340.40 517.86,338.80 C517.86,336.60 520.46,335.40 521.36,334.30Z" fill="#006400"/>
<path d="M531.03,335.10 C531.93,336.20 534.53,337.40 534.53,339.60 C534.53,341.20 532.63,341.70 531.53,340.60 L532.23,342.40 L529.83,342.40 L530.53,340.60 C529.43,341.70 527.53,341.20 527.53,339.60 C527.53,337.40 530.13,336.20 531.03,335.10Z" fill="#006400"/>
<path d="M540.70,335.90 C541.60,337.00 544.20,338.20 544.20,340.40 C544.20,342.00 542.30,342.50 541.20,341.40 L541.90,343.20 L539.50,343.20 L540.20,341.40 C539.10,342.50 537.20,342.00 537.20,340.40 C537.20,338.20 539.80,337.00 540.70,335.90Z" fill="#006400"/>
<polyline points="444.00,342.00 453.67,331.40 463.34,336.20 473.01,337.50 482.68,339.00 492.35,339.40 502.02,341.60 511.69,342.10 521.36,342.60 531.03,342.90 540.70,343.60" fill="none" stroke="#d62728" stroke-width="1.0" stroke-dasharray="3,1.6"/>
<circle cx="444.00" cy="342.00" r="2.95" fill="none" stroke="#d62728" stroke-width="1.15"/>
<circle cx="444.00" cy="342.10" r="0.75" fill="#d62728"/>
<circle cx="453.67" cy="331.40" r="2.95" fill="none" stroke="#d62728" stroke-width="1.15"/>
<circle cx="453.67" cy="331.50" r="0.75" fill="#d62728"/>
<circle cx="463.34" cy="336.20" r="2.95" fill="none" stroke="#d62728" stroke-width="1.15"/>
<circle cx="463.34" cy="336.30" r="0.75" fill="#d62728"/>
<circle cx="473.01" cy="337.50" r="2.95" fill="none" stroke="#d62728" stroke-width="1.15"/>
<circle cx="473.01" cy="337.60" r="0.75" fill="#d62728"/>
<circle cx="482.68" cy="339.00" r="2.95" fill="none" stroke="#d62728" stroke-width="1.15"/>
<circle cx="482.68" cy="339.10" r="0.75" fill="#d62728"/>
<circle cx="492.35" cy="339.40" r="2.95" fill="none" stroke="#d62728" stroke-width="1.15"/>
<circle cx="492.35" cy="339.50" r="0.75" fill="#d62728"/>
<circle cx="502.02" cy="341.60" r="2.95" fill="none" stroke="#d62728" stroke-width="1.15"/>
<circle cx="502.02" cy="341.70" r="0.75" fill="#d62728"/>
<circle cx="511.69" cy="342.10" r="2.95" fill="none" stroke="#d62728" stroke-width="1.15"/>
<circle cx="511.69" cy="342.20" r="0.75" fill="#d62728"/>
<circle cx="521.36" cy="342.60" r="2.95" fill="none" stroke="#d62728" stroke-width="1.15"/>
<circle cx="521.36" cy="342.70" r="0.75" fill="#d62728"/>
<circle cx="531.03" cy="342.90" r="2.95" fill="none" stroke="#d62728" stroke-width="1.15"/>
<circle cx="531.03" cy="343.00" r="0.75" fill="#d62728"/>
<circle cx="540.70" cy="343.60" r="2.95" fill="none" stroke="#d62728" stroke-width="1.15"/>
<circle cx="540.70" cy="343.70" r="0.75" fill="#d62728"/>
<rect x="452.4" y="258.50" width="71.30" height="18.30" fill="#fff" stroke="#e6e6e6" stroke-width="0.7" rx="0.8"/>
<line x1="457.00" y1="262.90" x2="468.40" y2="262.90" stroke="#2e8b2e" stroke-width="1.1" stroke-dasharray="2.4,1.6"/>
<path d="M464.40,259.30 C465.30,260.40 467.90,261.60 467.90,263.80 C467.90,265.40 466.00,265.90 464.90,264.80 L465.60,266.60 L463.20,266.60 L463.90,264.80 C462.80,265.90 460.90,265.40 460.90,263.80 C460.90,261.60 463.50,260.40 464.40,259.30Z" fill="#006400"/>
<line x1="457.80" y1="271.40" x2="470.00" y2="271.40" stroke="#d62728" stroke-width="1.0" stroke-dasharray="2.4,1.6"/>
<circle cx="464.40" cy="271.40" r="2.95" fill="none" stroke="#d62728" stroke-width="1.15"/>
<circle cx="464.40" cy="271.50" r="0.75" fill="#d62728"/>
<text x="475.60" y="264.30" font-size="5.4" font-family="DejaVu Sans, sans-serif" font-weight="bold" fill="#1a1a1a">N</text>
<text x="480.30" y="266.60" font-size="5.1" font-family="DejaVu Sans, sans-serif" font-weight="bold" fill="#222">fn</text>
<text x="487.90" y="264.00" font-size="5.3" font-family="DejaVu Sans, sans-serif" font-weight="bold" fill="#222">per image</text>
<text x="475.60" y="272.50" font-size="5.4" font-family="DejaVu Sans, sans-serif" font-weight="bold" fill="#1a1a1a">N</text>
<text x="480.30" y="274.80" font-size="5.1" font-family="DejaVu Sans, sans-serif" font-weight="bold" fill="#222">fp</text>
<text x="487.90" y="272.20" font-size="5.3" font-family="DejaVu Sans, sans-serif" font-weight="bold" fill="#222">per image</text>
<text x="492.30" y="366.20" font-size="7.9" text-anchor="middle" font-family="DejaVu Sans, sans-serif" font-weight="bold" fill="#000" >Iteration</text>
<text x="417.40" y="302.90" font-size="8.15" text-anchor="middle" font-family="DejaVu Sans, sans-serif" font-weight="bold" transform="rotate(-90 417.40 302.90)" dy="2.8">Metric Value</text>
<text x="494.00" y="377.40" font-size="9.9" text-anchor="middle" font-family="Liberation Serif, serif" stroke="#000" stroke-width="0.18" fill="#000" >(i)</text>
</svg>
</body></html>
